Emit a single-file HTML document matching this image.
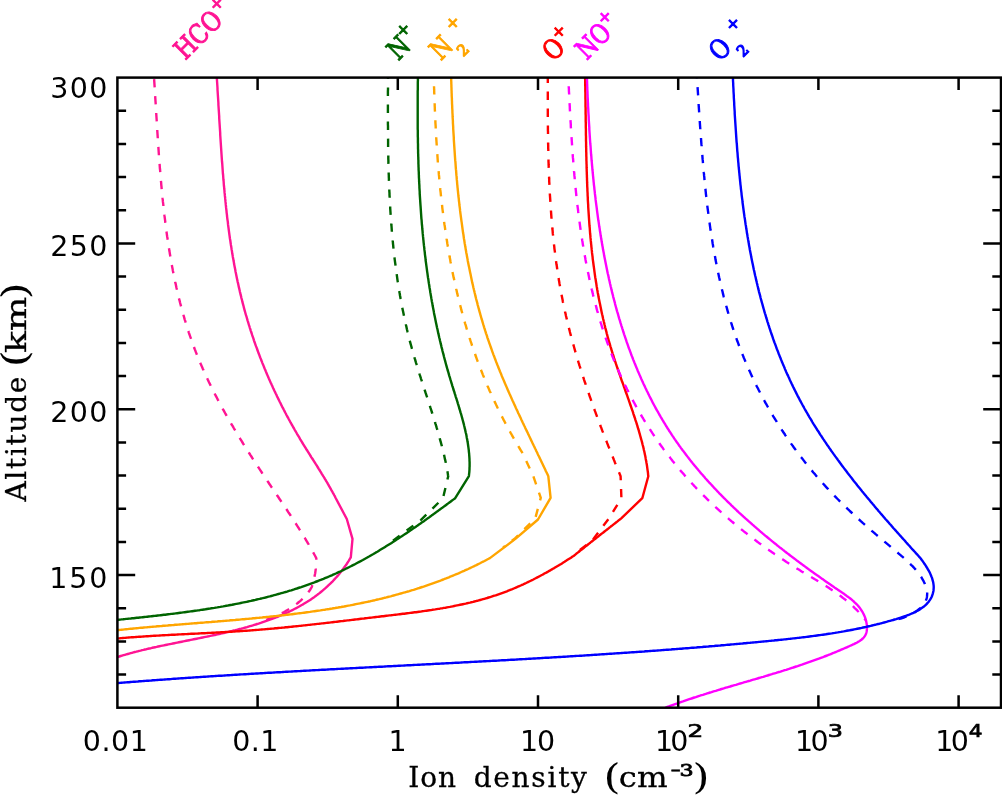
<!DOCTYPE html>
<html lang="en"><head><meta charset="utf-8"><title>Ion density vs altitude</title>
<style>html,body{margin:0;padding:0;background:#fff}svg{display:block}</style></head>
<body>
<svg width="1002" height="796" viewBox="0 0 1002 796">
<rect width="1002" height="796" fill="#fff"/>
<defs><clipPath id="c"><rect x="117.4" y="77.6" width="883.6" height="630.1"/></clipPath></defs>
<g clip-path="url(#c)" fill="none" stroke-width="2.4" stroke-linejoin="round">
<path d="M216.8,77.5 L216.9,79.0 L217.0,80.5 L217.1,82.0 L217.2,83.5 L217.3,85.0 L217.4,86.5 L217.5,88.0 L217.5,89.5 L217.6,91.0 L217.7,92.5 L217.8,94.0 L217.9,95.5 L218.0,97.0 L218.1,98.5 L218.2,100.0 L218.3,101.5 L218.4,103.0 L218.4,104.5 L218.5,106.0 L218.6,107.5 L218.7,109.0 L218.8,110.5 L218.9,112.0 L219.0,113.5 L219.1,115.0 L219.2,116.5 L219.2,118.0 L219.3,119.5 L219.4,121.0 L219.5,122.5 L219.6,124.0 L219.7,125.5 L219.8,127.0 L219.9,128.5 L220.0,130.0 L220.1,131.5 L220.2,133.0 L220.2,134.5 L220.3,136.0 L220.4,137.5 L220.5,139.0 L220.6,140.5 L220.7,142.0 L220.8,143.5 L220.9,145.0 L221.0,146.5 L221.1,148.0 L221.2,149.5 L221.3,151.0 L221.4,152.5 L221.5,154.0 L221.6,155.5 L221.7,157.0 L221.8,158.5 L221.9,160.0 L222.0,161.5 L222.2,163.0 L222.3,164.5 L222.4,166.0 L222.5,167.5 L222.6,169.0 L222.7,170.5 L222.8,172.0 L222.9,173.5 L223.1,175.0 L223.2,176.5 L223.3,178.0 L223.4,179.5 L223.6,181.0 L223.7,182.5 L223.8,184.0 L223.9,185.5 L224.1,187.0 L224.2,188.5 L224.4,190.0 L224.5,191.5 L224.6,192.9 L224.8,194.4 L224.9,195.9 L225.1,197.4 L225.2,198.9 L225.4,200.4 L225.5,201.9 L225.7,203.4 L225.8,204.9 L226.0,206.4 L226.1,207.9 L226.3,209.3 L226.5,210.8 L226.6,212.3 L226.8,213.8 L227.0,215.3 L227.1,216.8 L227.3,218.3 L227.5,219.8 L227.7,221.2 L227.9,222.7 L228.0,224.2 L228.2,225.7 L228.4,227.2 L228.6,228.7 L228.8,230.1 L229.0,231.6 L229.2,233.1 L229.4,234.6 L229.6,236.1 L229.8,237.5 L230.0,239.0 L230.3,240.5 L230.5,242.0 L230.7,243.5 L230.9,244.9 L231.2,246.4 L231.4,247.9 L231.6,249.4 L231.9,250.8 L232.1,252.3 L232.3,253.8 L232.6,255.2 L232.8,256.7 L233.1,258.2 L233.4,259.7 L233.6,261.1 L233.9,262.6 L234.1,264.1 L234.4,265.5 L234.7,267.0 L235.0,268.5 L235.3,269.9 L235.5,271.4 L235.8,272.8 L236.1,274.3 L236.4,275.8 L236.7,277.2 L237.0,278.7 L237.3,280.1 L237.6,281.6 L238.0,283.1 L238.3,284.5 L238.6,286.0 L238.9,287.4 L239.3,288.9 L239.6,290.3 L239.9,291.8 L240.3,293.2 L240.6,294.7 L241.0,296.1 L241.3,297.6 L241.7,299.0 L242.1,300.5 L242.4,301.9 L242.8,303.4 L243.2,304.8 L243.6,306.3 L243.9,307.7 L244.3,309.1 L244.7,310.6 L245.1,312.0 L245.5,313.5 L245.9,314.9 L246.4,316.3 L246.8,317.8 L247.2,319.2 L247.6,320.6 L248.1,322.1 L248.5,323.5 L248.9,324.9 L249.4,326.3 L249.8,327.8 L250.3,329.2 L250.7,330.6 L251.2,332.0 L251.7,333.5 L252.1,334.9 L252.6,336.3 L253.1,337.7 L253.6,339.1 L254.0,340.6 L254.5,342.0 L255.0,343.4 L255.5,344.8 L256.0,346.2 L256.6,347.6 L257.1,349.0 L257.6,350.5 L258.1,351.9 L258.6,353.3 L259.2,354.7 L259.7,356.1 L260.2,357.5 L260.8,358.9 L261.3,360.3 L261.9,361.7 L262.4,363.1 L263.0,364.5 L263.6,365.9 L264.1,367.3 L264.7,368.7 L265.3,370.0 L265.8,371.4 L266.4,372.8 L267.0,374.2 L267.6,375.6 L268.2,377.0 L268.8,378.4 L269.4,379.7 L270.0,381.1 L270.6,382.5 L271.3,383.9 L271.9,385.3 L272.5,386.6 L273.1,388.0 L273.8,389.4 L274.4,390.7 L275.1,392.1 L275.7,393.5 L276.4,394.8 L277.0,396.2 L277.7,397.6 L278.3,398.9 L279.0,400.3 L279.7,401.7 L280.4,403.0 L281.0,404.4 L281.7,405.7 L282.4,407.1 L283.1,408.4 L283.8,409.8 L284.5,411.1 L285.2,412.5 L285.9,413.8 L286.6,415.2 L287.3,416.5 L288.1,417.8 L288.8,419.2 L289.5,420.5 L290.2,421.8 L291.0,423.2 L291.7,424.5 L292.5,425.8 L293.2,427.2 L294.0,428.5 L294.7,429.8 L295.5,431.1 L296.3,432.5 L297.0,433.8 L297.8,435.1 L298.6,436.4 L299.4,437.7 L300.1,439.1 L300.9,440.4 L301.7,441.7 L302.5,443.0 L303.3,444.3 L304.1,445.6 L304.9,446.9 L305.7,448.2 L306.5,449.5 L307.4,450.8 L308.2,452.1 L309.0,453.4 L309.8,454.7 L310.6,456.0 L311.4,457.3 L312.2,458.5 L313.1,459.8 L313.9,461.1 L314.7,462.4 L315.5,463.7 L316.3,464.9 L317.1,466.2 L317.9,467.5 L318.7,468.8 L319.5,470.0 L320.3,471.3 L321.1,472.6 L321.8,473.8 L322.6,475.1 L323.4,476.4 L324.2,477.6 L324.9,478.9 L325.7,480.1 L326.4,481.4 L327.2,482.6 L327.9,483.9 L328.6,485.1 L329.3,486.4 L330.0,487.6 L330.7,488.8 L331.4,490.1 L332.1,491.3 L332.8,492.6 L333.5,493.8 L334.1,495.0 L334.8,496.2 L335.4,497.5 L335.4,497.5 L346.8,519.0 L352.5,538.8 L350.8,557.3 L350.0,558.7 L349.2,560.0 L348.4,561.4 L347.5,562.7 L346.7,564.0 L345.8,565.3 L344.9,566.5 L344.0,567.8 L343.1,569.0 L342.2,570.2 L341.3,571.4 L340.3,572.6 L339.4,573.8 L338.4,575.0 L337.4,576.1 L336.4,577.2 L335.4,578.3 L334.4,579.4 L333.4,580.5 L332.4,581.6 L331.3,582.7 L330.3,583.7 L329.2,584.7 L328.1,585.7 L327.1,586.7 L326.0,587.7 L324.9,588.7 L323.7,589.7 L322.6,590.6 L321.5,591.5 L320.3,592.5 L319.2,593.4 L318.0,594.3 L316.9,595.1 L315.7,596.0 L314.5,596.9 L313.3,597.7 L312.1,598.6 L310.9,599.4 L309.7,600.2 L308.4,601.0 L307.2,601.8 L306.0,602.5 L304.7,603.3 L303.4,604.1 L302.2,604.8 L300.9,605.5 L299.6,606.3 L298.3,607.0 L297.0,607.7 L295.7,608.4 L294.4,609.0 L293.1,609.7 L291.8,610.4 L290.5,611.0 L289.1,611.7 L287.8,612.3 L286.4,612.9 L285.1,613.5 L283.7,614.1 L282.4,614.7 L281.0,615.3 L279.6,615.9 L278.3,616.5 L276.9,617.0 L275.5,617.6 L274.1,618.1 L272.7,618.6 L271.3,619.2 L269.9,619.7 L268.5,620.2 L267.1,620.7 L265.7,621.2 L264.3,621.7 L262.8,622.2 L261.4,622.7 L260.0,623.1 L258.6,623.6 L257.1,624.0 L255.7,624.5 L254.3,624.9 L252.8,625.4 L251.4,625.8 L249.9,626.2 L248.5,626.6 L247.0,627.1 L245.6,627.5 L244.1,627.9 L242.6,628.3 L241.2,628.7 L239.7,629.0 L238.3,629.4 L236.8,629.8 L235.3,630.2 L233.8,630.5 L232.4,630.9 L230.9,631.3 L229.4,631.6 L227.9,632.0 L226.5,632.3 L225.0,632.7 L223.5,633.0 L222.0,633.3 L220.5,633.7 L219.0,634.0 L217.6,634.3 L216.1,634.7 L214.6,635.0 L213.1,635.3 L211.6,635.6 L210.1,635.9 L208.6,636.3 L207.1,636.6 L205.6,636.9 L204.2,637.2 L202.7,637.5 L201.2,637.8 L199.7,638.1 L198.2,638.4 L196.7,638.7 L195.2,639.0 L193.7,639.3 L192.2,639.6 L190.7,639.9 L189.2,640.2 L187.7,640.5 L186.2,640.8 L184.7,641.1 L183.3,641.4 L181.8,641.7 L180.3,642.0 L178.8,642.3 L177.3,642.6 L175.8,642.9 L174.3,643.2 L172.8,643.5 L171.4,643.8 L169.9,644.1 L168.4,644.4 L166.9,644.7 L165.4,645.0 L164.0,645.3 L162.5,645.6 L161.0,645.9 L159.5,646.2 L158.1,646.5 L156.6,646.9 L155.1,647.2 L153.7,647.5 L152.2,647.8 L150.8,648.2 L149.3,648.5 L147.8,648.8 L146.4,649.2 L144.9,649.5 L143.5,649.9 L142.1,650.2 L140.6,650.6 L139.2,650.9 L137.7,651.3 L136.3,651.7 L134.9,652.0 L133.4,652.4 L132.0,652.8 L130.6,653.2 L129.2,653.6 L127.8,654.0 L126.3,654.4 L124.9,654.8 L123.5,655.2 L122.1,655.6 L120.7,656.0 L119.3,656.5 L118.0,656.9 L117.0,657.2" stroke="#FF1493"/>
<path d="M154.0,77.5 L154.1,79.0 L154.2,80.4 L154.3,81.9 L154.4,83.4 L154.5,84.8 L154.6,86.3 L154.7,87.8 L154.8,89.3 L154.8,90.7 L154.9,92.2 L155.0,93.7 L155.1,95.2 L155.2,96.7 L155.3,98.1 L155.4,99.6 L155.5,101.1 L155.6,102.6 L155.7,104.1 L155.8,105.6 L155.8,107.0 L155.9,108.5 L156.0,110.0 L156.1,111.5 L156.2,113.0 L156.3,114.5 L156.4,116.0 L156.5,117.5 L156.6,119.0 L156.7,120.5 L156.8,121.9 L156.8,123.4 L156.9,124.9 L157.0,126.4 L157.1,127.9 L157.2,129.4 L157.3,130.9 L157.4,132.4 L157.5,133.9 L157.6,135.4 L157.7,136.9 L157.8,138.4 L157.9,139.9 L158.0,141.4 L158.1,142.9 L158.2,144.4 L158.3,145.9 L158.4,147.4 L158.5,148.9 L158.6,150.4 L158.7,152.0 L158.8,153.5 L158.9,155.0 L159.0,156.5 L159.1,158.0 L159.3,159.5 L159.4,161.0 L159.5,162.5 L159.6,164.0 L159.7,165.5 L159.8,167.0 L159.9,168.5 L160.1,170.0 L160.2,171.5 L160.3,173.0 L160.4,174.5 L160.6,176.1 L160.7,177.6 L160.8,179.1 L160.9,180.6 L161.1,182.1 L161.2,183.6 L161.3,185.1 L161.5,186.6 L161.6,188.1 L161.7,189.6 L161.9,191.1 L162.0,192.6 L162.2,194.1 L162.3,195.6 L162.5,197.2 L162.6,198.7 L162.8,200.2 L162.9,201.7 L163.1,203.2 L163.3,204.7 L163.4,206.2 L163.6,207.7 L163.7,209.2 L163.9,210.7 L164.1,212.2 L164.3,213.7 L164.4,215.2 L164.6,216.7 L164.8,218.2 L165.0,219.7 L165.2,221.2 L165.3,222.7 L165.5,224.2 L165.7,225.7 L165.9,227.2 L166.1,228.7 L166.3,230.2 L166.5,231.7 L166.7,233.2 L166.9,234.7 L167.1,236.2 L167.4,237.7 L167.6,239.2 L167.8,240.7 L168.0,242.2 L168.2,243.7 L168.5,245.2 L168.7,246.6 L168.9,248.1 L169.2,249.6 L169.4,251.1 L169.7,252.6 L169.9,254.1 L170.2,255.6 L170.4,257.1 L170.7,258.5 L170.9,260.0 L171.2,261.5 L171.5,263.0 L171.7,264.5 L172.0,265.9 L172.3,267.4 L172.6,268.9 L172.8,270.4 L173.1,271.8 L173.4,273.3 L173.7,274.8 L174.0,276.3 L174.3,277.7 L174.6,279.2 L174.9,280.7 L175.2,282.1 L175.6,283.6 L175.9,285.1 L176.2,286.5 L176.5,288.0 L176.9,289.5 L177.2,290.9 L177.5,292.4 L177.9,293.8 L178.2,295.3 L178.6,296.7 L178.9,298.2 L179.3,299.6 L179.7,301.1 L180.0,302.5 L180.4,304.0 L180.8,305.4 L181.2,306.9 L181.6,308.3 L182.0,309.8 L182.4,311.2 L182.8,312.6 L183.2,314.1 L183.6,315.5 L184.0,316.9 L184.4,318.4 L184.8,319.8 L185.3,321.2 L185.7,322.7 L186.1,324.1 L186.6,325.5 L187.0,326.9 L187.5,328.3 L187.9,329.8 L188.4,331.2 L188.8,332.6 L189.3,334.0 L189.8,335.4 L190.3,336.8 L190.8,338.2 L191.3,339.6 L191.7,341.0 L192.3,342.4 L192.8,343.8 L193.3,345.2 L193.8,346.6 L194.3,348.0 L194.8,349.4 L195.4,350.8 L195.9,352.2 L196.5,353.6 L197.0,355.0 L197.6,356.3 L198.1,357.7 L198.7,359.1 L199.2,360.5 L199.8,361.8 L200.4,363.2 L201.0,364.6 L201.6,365.9 L202.2,367.3 L202.8,368.7 L203.4,370.0 L204.0,371.4 L204.6,372.8 L205.2,374.1 L205.8,375.5 L206.5,376.8 L207.1,378.2 L207.7,379.5 L208.4,380.9 L209.0,382.2 L209.7,383.6 L210.3,384.9 L211.0,386.2 L211.6,387.6 L212.3,388.9 L213.0,390.3 L213.6,391.6 L214.3,392.9 L215.0,394.3 L215.7,395.6 L216.4,396.9 L217.1,398.2 L217.8,399.6 L218.5,400.9 L219.2,402.2 L219.9,403.5 L220.6,404.8 L221.3,406.2 L222.0,407.5 L222.7,408.8 L223.5,410.1 L224.2,411.4 L224.9,412.7 L225.6,414.0 L226.4,415.3 L227.1,416.6 L227.9,418.0 L228.6,419.3 L229.4,420.6 L230.1,421.9 L230.9,423.2 L231.6,424.5 L232.4,425.7 L233.2,427.0 L233.9,428.3 L234.7,429.6 L235.5,430.9 L236.2,432.2 L237.0,433.5 L237.8,434.8 L238.6,436.1 L239.4,437.4 L240.1,438.6 L240.9,439.9 L241.7,441.2 L242.5,442.5 L243.3,443.8 L244.1,445.1 L244.9,446.3 L245.7,447.6 L246.5,448.9 L247.3,450.2 L248.1,451.4 L248.9,452.7 L249.8,454.0 L250.6,455.3 L251.4,456.5 L252.2,457.8 L253.0,459.1 L253.8,460.3 L254.7,461.6 L255.5,462.9 L256.3,464.1 L257.1,465.4 L258.0,466.7 L258.8,467.9 L259.6,469.2 L260.4,470.4 L261.3,471.7 L262.1,473.0 L262.9,474.2 L263.8,475.5 L264.6,476.7 L265.4,478.0 L266.3,479.2 L267.1,480.5 L268.0,481.8 L268.8,483.0 L269.6,484.3 L270.5,485.5 L271.3,486.8 L272.2,488.0 L273.0,489.3 L273.9,490.5 L274.7,491.8 L275.5,493.0 L276.4,494.3 L277.2,495.5 L278.1,496.8 L278.9,498.0 L279.7,499.3 L280.6,500.5 L281.4,501.8 L282.3,503.0 L283.1,504.3 L283.9,505.5 L284.8,506.8 L285.6,508.0 L286.5,509.3 L287.3,510.5 L288.1,511.8 L288.9,513.0 L289.8,514.3 L290.6,515.5 L291.4,516.8 L292.2,518.0 L293.1,519.3 L293.9,520.5 L294.7,521.8 L295.5,523.1 L296.3,524.3 L297.1,525.6 L297.9,526.8 L298.7,528.1 L299.5,529.4 L300.3,530.6 L301.1,531.9 L301.9,533.2 L302.7,534.4 L303.4,535.7 L304.2,537.0 L305.0,538.2 L305.7,539.5 L306.5,540.8 L307.3,542.1 L308.0,543.4 L308.8,544.6 L309.5,545.9 L310.2,547.2 L311.0,548.5 L311.7,549.8 L312.4,551.1 L313.1,552.4 L313.9,553.7 L314.6,555.0 L315.3,556.3 L316.0,557.6 L316.3,558.2 L316.3,559.7 L316.3,561.2 L316.2,562.7 L316.2,564.2 L316.1,565.7 L315.9,567.2 L315.8,568.7 L315.6,570.2 L315.4,571.7 L315.2,573.2 L314.9,574.6 L314.6,576.1 L314.3,577.6 L314.0,579.0 L313.7,580.5 L313.3,581.9 L312.9,583.4 L312.4,584.8 L312.0,586.3 L311.6,587.4 L310.8,588.7 L310.0,590.0 L309.1,591.2 L308.2,592.4 L307.3,593.6 L306.3,594.7 L305.4,595.8 L304.4,596.9 L303.3,598.0 L302.3,599.0 L301.2,600.1 L300.1,601.1 L298.9,602.0 L297.8,603.0 L296.6,603.9 L295.4,604.8 L294.2,605.7 L293.0,606.5 L291.7,607.4 L290.5,608.2 L289.2,609.0 L287.9,609.8 L286.6,610.5 L285.3,611.3 L284.0,612.0 L282.6,612.7 L281.3,613.4 L279.9,614.0 L278.6,614.7 L277.2,615.3 L275.8,615.9 L274.4,616.5 L273.0,617.1 L271.6,617.7 L270.2,618.3 L268.9,618.8 L267.5,619.4 L266.1,619.9 L264.7,620.4 L263.3,620.9 L261.9,621.4 L260.5,621.9 L259.1,622.3 L258.4,622.6" stroke="#FF1493" stroke-dasharray="8.3 8.7" stroke-dashoffset="15.4"/>
<path d="M417.9,77.5 L417.9,79.0 L417.9,80.5 L417.8,82.1 L417.8,83.6 L417.8,85.1 L417.8,86.6 L417.8,88.2 L417.8,89.7 L417.7,91.2 L417.7,92.7 L417.7,94.2 L417.7,95.7 L417.7,97.3 L417.7,98.8 L417.7,100.3 L417.7,101.8 L417.7,103.3 L417.7,104.8 L417.7,106.4 L417.7,107.9 L417.7,109.4 L417.7,110.9 L417.7,112.4 L417.7,113.9 L417.7,115.4 L417.7,116.9 L417.7,118.4 L417.7,120.0 L417.7,121.5 L417.7,123.0 L417.7,124.5 L417.7,126.0 L417.7,127.5 L417.7,129.0 L417.8,130.5 L417.8,132.0 L417.8,133.5 L417.8,135.0 L417.8,136.5 L417.9,138.0 L417.9,139.5 L417.9,141.0 L417.9,142.5 L418.0,144.0 L418.0,145.5 L418.0,147.0 L418.0,148.5 L418.1,150.0 L418.1,151.5 L418.1,153.0 L418.2,154.5 L418.2,156.0 L418.3,157.5 L418.3,159.0 L418.4,160.5 L418.4,162.0 L418.4,163.5 L418.5,165.0 L418.5,166.5 L418.6,168.0 L418.6,169.5 L418.7,171.0 L418.8,172.5 L418.8,174.0 L418.9,175.5 L418.9,177.0 L419.0,178.5 L419.1,180.0 L419.1,181.4 L419.2,182.9 L419.3,184.4 L419.4,185.9 L419.4,187.4 L419.5,188.9 L419.6,190.4 L419.7,191.9 L419.7,193.4 L419.8,194.9 L419.9,196.3 L420.0,197.8 L420.1,199.3 L420.2,200.8 L420.3,202.3 L420.4,203.8 L420.5,205.3 L420.6,206.7 L420.7,208.2 L420.8,209.7 L420.9,211.2 L421.0,212.7 L421.1,214.2 L421.2,215.6 L421.3,217.1 L421.4,218.6 L421.6,220.1 L421.7,221.6 L421.8,223.1 L421.9,224.5 L422.1,226.0 L422.2,227.5 L422.3,229.0 L422.5,230.5 L422.6,231.9 L422.7,233.4 L422.9,234.9 L423.0,236.4 L423.2,237.9 L423.3,239.3 L423.5,240.8 L423.6,242.3 L423.8,243.8 L423.9,245.2 L424.1,246.7 L424.3,248.2 L424.4,249.7 L424.6,251.1 L424.8,252.6 L424.9,254.1 L425.1,255.6 L425.3,257.0 L425.5,258.5 L425.6,260.0 L425.8,261.5 L426.0,262.9 L426.2,264.4 L426.4,265.9 L426.6,267.4 L426.8,268.8 L427.0,270.3 L427.2,271.8 L427.4,273.2 L427.6,274.7 L427.8,276.2 L428.0,277.7 L428.3,279.1 L428.5,280.6 L428.7,282.1 L428.9,283.5 L429.2,285.0 L429.4,286.5 L429.6,288.0 L429.9,289.4 L430.1,290.9 L430.3,292.4 L430.6,293.8 L430.8,295.3 L431.1,296.8 L431.3,298.2 L431.6,299.7 L431.8,301.2 L432.1,302.6 L432.4,304.1 L432.6,305.6 L432.9,307.0 L433.2,308.5 L433.5,310.0 L433.8,311.4 L434.0,312.9 L434.3,314.4 L434.6,315.8 L434.9,317.3 L435.2,318.8 L435.5,320.2 L435.8,321.7 L436.1,323.2 L436.4,324.6 L436.7,326.1 L437.0,327.6 L437.4,329.0 L437.7,330.5 L438.0,332.0 L438.3,333.4 L438.7,334.9 L439.0,336.4 L439.3,337.8 L439.7,339.3 L440.0,340.7 L440.4,342.2 L440.7,343.7 L441.1,345.1 L441.4,346.6 L441.8,348.1 L442.2,349.5 L442.5,351.0 L442.9,352.5 L443.3,353.9 L443.7,355.4 L444.0,356.8 L444.4,358.3 L444.8,359.8 L445.2,361.2 L445.6,362.7 L446.0,364.2 L446.4,365.6 L446.8,367.1 L447.2,368.5 L447.6,370.0 L448.1,371.5 L448.5,372.9 L448.9,374.4 L449.3,375.8 L449.8,377.3 L450.2,378.8 L450.6,380.2 L451.1,381.7 L451.5,383.2 L452.0,384.6 L452.4,386.1 L452.9,387.5 L453.3,389.0 L453.8,390.5 L454.3,391.9 L454.7,393.4 L455.2,394.8 L455.6,396.3 L456.1,397.8 L456.6,399.2 L457.0,400.7 L457.5,402.2 L457.9,403.6 L458.4,405.1 L458.8,406.5 L459.2,408.0 L459.7,409.5 L460.1,410.9 L460.5,412.4 L461.0,413.8 L461.4,415.3 L461.8,416.8 L462.2,418.2 L462.6,419.7 L463.0,421.1 L463.4,422.6 L463.8,424.1 L464.1,425.5 L464.5,427.0 L464.8,428.4 L465.2,429.9 L465.5,431.4 L465.8,432.8 L466.2,434.3 L466.5,435.8 L466.7,437.2 L467.0,438.7 L467.3,440.1 L467.5,441.6 L467.8,443.1 L468.0,444.5 L468.2,446.0 L468.4,447.4 L468.6,448.9 L468.8,450.4 L468.9,451.8 L469.1,453.3 L469.2,454.8 L469.3,456.2 L469.4,457.7 L469.5,459.1 L469.5,460.6 L469.6,462.1 L469.6,463.5 L469.6,465.0 L469.6,466.5 L469.5,467.9 L469.5,469.4 L469.4,470.8 L469.3,472.3 L469.1,473.8 L469.0,475.2 L468.9,476.2 L455.2,498.2 L454.0,499.1 L452.9,499.9 L451.7,500.8 L450.5,501.7 L449.4,502.5 L448.2,503.4 L447.0,504.3 L445.8,505.2 L444.7,506.0 L443.5,506.9 L442.3,507.8 L441.1,508.6 L439.9,509.5 L438.7,510.4 L437.5,511.3 L436.3,512.1 L435.1,513.0 L433.9,513.9 L432.7,514.8 L431.5,515.6 L430.3,516.5 L429.1,517.4 L427.8,518.2 L426.6,519.1 L425.4,520.0 L424.2,520.9 L423.0,521.7 L421.7,522.6 L420.5,523.5 L419.3,524.3 L418.0,525.2 L416.8,526.1 L415.6,526.9 L414.3,527.8 L413.1,528.6 L411.8,529.5 L410.6,530.3 L409.3,531.2 L408.1,532.0 L406.8,532.9 L405.6,533.7 L404.3,534.6 L403.0,535.4 L401.8,536.3 L400.5,537.1 L399.2,537.9 L398.0,538.8 L396.7,539.6 L395.4,540.4 L394.1,541.2 L392.9,542.1 L391.6,542.9 L390.3,543.7 L389.0,544.5 L387.7,545.3 L386.4,546.1 L385.1,546.9 L383.8,547.7 L382.5,548.5 L381.2,549.3 L379.9,550.1 L378.6,550.9 L377.3,551.7 L376.0,552.4 L374.7,553.2 L373.4,554.0 L372.1,554.7 L370.8,555.5 L369.5,556.3 L368.1,557.0 L366.8,557.8 L365.5,558.5 L364.2,559.2 L362.8,560.0 L361.5,560.7 L360.2,561.4 L358.8,562.1 L357.5,562.8 L356.2,563.5 L354.8,564.3 L353.5,564.9 L352.1,565.6 L350.8,566.3 L349.4,567.0 L348.1,567.7 L346.7,568.3 L345.4,569.0 L344.0,569.7 L342.7,570.3 L341.3,571.0 L340.0,571.6 L338.6,572.2 L337.2,572.8 L335.9,573.5 L334.5,574.1 L333.1,574.7 L331.8,575.3 L330.4,575.9 L329.0,576.5 L327.6,577.1 L326.3,577.6 L324.9,578.2 L323.5,578.8 L322.1,579.3 L320.7,579.9 L319.3,580.4 L318.0,581.0 L316.6,581.5 L315.2,582.0 L313.8,582.6 L312.4,583.1 L311.0,583.6 L309.6,584.1 L308.2,584.6 L306.8,585.1 L305.4,585.6 L304.0,586.1 L302.6,586.6 L301.2,587.1 L299.8,587.5 L298.3,588.0 L296.9,588.5 L295.5,588.9 L294.1,589.4 L292.7,589.8 L291.3,590.3 L289.8,590.7 L288.4,591.1 L287.0,591.6 L285.6,592.0 L284.2,592.4 L282.7,592.8 L281.3,593.2 L279.9,593.6 L278.4,594.0 L277.0,594.4 L275.6,594.8 L274.1,595.2 L272.7,595.6 L271.3,596.0 L269.8,596.4 L268.4,596.7 L267.0,597.1 L265.5,597.5 L264.1,597.8 L262.6,598.2 L261.2,598.5 L259.7,598.9 L258.3,599.2 L256.8,599.5 L255.4,599.9 L253.9,600.2 L252.5,600.5 L251.0,600.9 L249.6,601.2 L248.1,601.5 L246.7,601.8 L245.2,602.1 L243.7,602.4 L242.3,602.7 L240.8,603.0 L239.4,603.3 L237.9,603.6 L236.4,603.9 L235.0,604.2 L233.5,604.5 L232.0,604.8 L230.6,605.0 L229.1,605.3 L227.6,605.6 L226.2,605.8 L224.7,606.1 L223.2,606.4 L221.7,606.6 L220.3,606.9 L218.8,607.1 L217.3,607.4 L215.8,607.6 L214.4,607.9 L212.9,608.1 L211.4,608.3 L209.9,608.6 L208.5,608.8 L207.0,609.0 L205.5,609.3 L204.0,609.5 L202.5,609.7 L201.0,609.9 L199.6,610.2 L198.1,610.4 L196.6,610.6 L195.1,610.8 L193.6,611.0 L192.1,611.2 L190.6,611.4 L189.1,611.6 L187.7,611.8 L186.2,612.0 L184.7,612.2 L183.2,612.4 L181.7,612.6 L180.2,612.8 L178.7,613.0 L177.2,613.2 L175.7,613.4 L174.2,613.6 L172.7,613.8 L171.2,613.9 L169.7,614.1 L168.2,614.3 L166.7,614.5 L165.3,614.7 L163.8,614.8 L162.3,615.0 L160.8,615.2 L159.3,615.4 L157.8,615.5 L156.3,615.7 L154.8,615.9 L153.3,616.0 L151.8,616.2 L150.3,616.4 L148.8,616.5 L147.3,616.7 L145.8,616.9 L144.3,617.0 L142.8,617.2 L141.3,617.4 L139.8,617.5 L138.3,617.7 L136.8,617.8 L135.3,618.0 L133.7,618.2 L132.2,618.3 L130.7,618.5 L129.2,618.6 L127.7,618.8 L126.2,618.9 L124.7,619.1 L123.2,619.3 L121.7,619.4 L120.2,619.6 L118.7,619.7 L117.2,619.9 L117.0,619.9" stroke="#006400"/>
<path d="M388.0,77.5 L388.0,79.0 L388.0,80.5 L388.0,82.0 L388.0,83.6 L388.0,85.1 L388.0,86.6 L388.0,88.1 L388.0,89.6 L387.9,91.1 L387.9,92.6 L387.9,94.1 L387.9,95.7 L387.9,97.2 L387.9,98.7 L387.9,100.2 L387.9,101.7 L387.9,103.2 L387.9,104.7 L387.9,106.2 L387.9,107.7 L387.9,109.2 L387.9,110.7 L387.9,112.3 L387.9,113.8 L387.9,115.3 L387.9,116.8 L387.9,118.3 L387.9,119.8 L387.9,121.3 L387.9,122.8 L387.9,124.3 L388.0,125.8 L388.0,127.3 L388.0,128.8 L388.0,130.3 L388.0,131.8 L388.0,133.3 L388.0,134.8 L388.0,136.3 L388.0,137.9 L388.1,139.4 L388.1,140.9 L388.1,142.4 L388.1,143.9 L388.1,145.4 L388.1,146.9 L388.2,148.4 L388.2,149.9 L388.2,151.4 L388.2,152.9 L388.3,154.4 L388.3,155.9 L388.3,157.4 L388.3,158.9 L388.4,160.4 L388.4,161.9 L388.4,163.4 L388.5,164.9 L388.5,166.4 L388.6,167.9 L388.6,169.4 L388.6,170.9 L388.7,172.3 L388.7,173.8 L388.8,175.3 L388.8,176.8 L388.9,178.3 L388.9,179.8 L389.0,181.3 L389.0,182.8 L389.1,184.3 L389.1,185.8 L389.2,187.3 L389.3,188.8 L389.3,190.3 L389.4,191.8 L389.5,193.3 L389.5,194.8 L389.6,196.3 L389.7,197.7 L389.7,199.2 L389.8,200.7 L389.9,202.2 L390.0,203.7 L390.1,205.2 L390.2,206.7 L390.2,208.2 L390.3,209.7 L390.4,211.2 L390.5,212.6 L390.6,214.1 L390.7,215.6 L390.8,217.1 L390.9,218.6 L391.0,220.1 L391.1,221.6 L391.2,223.0 L391.3,224.5 L391.5,226.0 L391.6,227.5 L391.7,229.0 L391.8,230.5 L391.9,232.0 L392.1,233.4 L392.2,234.9 L392.3,236.4 L392.5,237.9 L392.6,239.4 L392.7,240.9 L392.9,242.3 L393.0,243.8 L393.2,245.3 L393.3,246.8 L393.5,248.3 L393.6,249.7 L393.8,251.2 L394.0,252.7 L394.1,254.2 L394.3,255.7 L394.5,257.1 L394.6,258.6 L394.8,260.1 L395.0,261.6 L395.2,263.1 L395.4,264.5 L395.6,266.0 L395.8,267.5 L395.9,269.0 L396.1,270.4 L396.3,271.9 L396.6,273.4 L396.8,274.9 L397.0,276.3 L397.2,277.8 L397.4,279.3 L397.6,280.8 L397.8,282.2 L398.1,283.7 L398.3,285.2 L398.5,286.7 L398.8,288.1 L399.0,289.6 L399.3,291.1 L399.5,292.5 L399.8,294.0 L400.0,295.5 L400.3,297.0 L400.5,298.4 L400.8,299.9 L401.1,301.4 L401.4,302.8 L401.6,304.3 L401.9,305.8 L402.2,307.2 L402.5,308.7 L402.8,310.2 L403.1,311.6 L403.4,313.1 L403.7,314.6 L404.0,316.0 L404.3,317.5 L404.6,319.0 L404.9,320.4 L405.3,321.9 L405.6,323.4 L405.9,324.8 L406.3,326.3 L406.6,327.8 L406.9,329.2 L407.3,330.7 L407.6,332.1 L408.0,333.6 L408.4,335.1 L408.7,336.5 L409.1,338.0 L409.5,339.4 L409.8,340.9 L410.2,342.4 L410.6,343.8 L411.0,345.3 L411.4,346.7 L411.8,348.2 L412.2,349.7 L412.6,351.1 L413.0,352.6 L413.4,354.0 L413.9,355.5 L414.3,356.9 L414.7,358.4 L415.2,359.9 L415.6,361.3 L416.0,362.8 L416.5,364.2 L416.9,365.7 L417.4,367.1 L417.8,368.6 L418.3,370.0 L418.7,371.5 L419.2,372.9 L419.6,374.4 L420.1,375.8 L420.6,377.3 L421.0,378.8 L421.5,380.2 L422.0,381.7 L422.4,383.1 L422.9,384.6 L423.4,386.0 L423.8,387.5 L424.3,388.9 L424.8,390.3 L425.3,391.8 L425.7,393.2 L426.2,394.7 L426.7,396.1 L427.2,397.6 L427.6,399.0 L428.1,400.5 L428.6,401.9 L429.0,403.4 L429.5,404.8 L430.0,406.3 L430.4,407.7 L430.9,409.1 L431.4,410.6 L431.8,412.0 L432.3,413.5 L432.7,414.9 L433.2,416.4 L433.7,417.8 L434.1,419.2 L434.6,420.7 L435.0,422.1 L435.4,423.6 L435.9,425.0 L436.3,426.4 L436.7,427.9 L437.2,429.3 L437.6,430.8 L438.0,432.2 L438.4,433.6 L438.8,435.1 L439.2,436.5 L439.6,437.9 L440.0,439.4 L440.4,440.8 L440.8,442.2 L441.2,443.7 L441.6,445.1 L442.0,446.6 L442.3,448.0 L442.7,449.4 L443.0,450.9 L443.4,452.3 L443.7,453.7 L444.1,455.1 L444.4,456.6 L444.7,458.0 L445.0,459.4 L445.4,460.9 L445.7,462.3 L445.9,463.7 L446.2,465.2 L446.5,466.6 L446.8,468.0 L447.1,469.4 L447.3,470.9 L447.6,472.3 L447.8,473.7 L448.0,475.2 L448.2,476.2 L443.0,498.2 L421.0,519.9 L392.0,541.5" stroke="#006400" stroke-dasharray="8.3 8.7" stroke-dashoffset="6.9"/>
<path d="M451.1,77.5 L451.2,79.0 L451.2,80.5 L451.3,82.0 L451.3,83.5 L451.4,85.0 L451.4,86.6 L451.5,88.1 L451.5,89.6 L451.6,91.1 L451.6,92.6 L451.7,94.1 L451.7,95.6 L451.8,97.1 L451.9,98.6 L451.9,100.1 L452.0,101.6 L452.0,103.1 L452.1,104.6 L452.2,106.2 L452.2,107.7 L452.3,109.2 L452.4,110.7 L452.4,112.2 L452.5,113.7 L452.6,115.2 L452.6,116.7 L452.7,118.2 L452.8,119.7 L452.9,121.2 L452.9,122.7 L453.0,124.2 L453.1,125.7 L453.2,127.2 L453.2,128.7 L453.3,130.2 L453.4,131.7 L453.5,133.2 L453.6,134.7 L453.7,136.2 L453.8,137.7 L453.8,139.2 L453.9,140.7 L454.0,142.2 L454.1,143.7 L454.2,145.2 L454.3,146.7 L454.4,148.2 L454.5,149.7 L454.6,151.2 L454.7,152.7 L454.8,154.2 L454.9,155.7 L455.0,157.2 L455.1,158.7 L455.2,160.2 L455.4,161.7 L455.5,163.2 L455.6,164.7 L455.7,166.2 L455.8,167.7 L455.9,169.2 L456.1,170.7 L456.2,172.2 L456.3,173.7 L456.4,175.2 L456.6,176.7 L456.7,178.2 L456.8,179.7 L457.0,181.1 L457.1,182.6 L457.2,184.1 L457.4,185.6 L457.5,187.1 L457.7,188.6 L457.8,190.1 L458.0,191.6 L458.1,193.1 L458.3,194.6 L458.4,196.0 L458.6,197.5 L458.8,199.0 L458.9,200.5 L459.1,202.0 L459.3,203.5 L459.4,205.0 L459.6,206.4 L459.8,207.9 L460.0,209.4 L460.1,210.9 L460.3,212.4 L460.5,213.9 L460.7,215.3 L460.9,216.8 L461.1,218.3 L461.3,219.8 L461.5,221.3 L461.7,222.7 L461.9,224.2 L462.1,225.7 L462.3,227.2 L462.5,228.6 L462.7,230.1 L462.9,231.6 L463.1,233.1 L463.4,234.5 L463.6,236.0 L463.8,237.5 L464.0,239.0 L464.3,240.4 L464.5,241.9 L464.7,243.4 L465.0,244.8 L465.2,246.3 L465.5,247.8 L465.7,249.3 L466.0,250.7 L466.2,252.2 L466.5,253.7 L466.8,255.1 L467.0,256.6 L467.3,258.1 L467.6,259.5 L467.8,261.0 L468.1,262.4 L468.4,263.9 L468.7,265.4 L469.0,266.8 L469.3,268.3 L469.6,269.8 L469.9,271.2 L470.2,272.7 L470.5,274.1 L470.8,275.6 L471.1,277.0 L471.4,278.5 L471.7,280.0 L472.0,281.4 L472.3,282.9 L472.7,284.3 L473.0,285.8 L473.3,287.2 L473.7,288.7 L474.0,290.1 L474.4,291.6 L474.7,293.0 L475.1,294.5 L475.4,295.9 L475.8,297.4 L476.1,298.8 L476.5,300.3 L476.9,301.7 L477.3,303.1 L477.6,304.6 L478.0,306.0 L478.4,307.5 L478.8,308.9 L479.2,310.4 L479.6,311.8 L480.0,313.2 L480.4,314.7 L480.8,316.1 L481.2,317.5 L481.6,319.0 L482.1,320.4 L482.5,321.8 L482.9,323.3 L483.3,324.7 L483.8,326.1 L484.2,327.6 L484.7,329.0 L485.1,330.4 L485.6,331.9 L486.0,333.3 L486.5,334.7 L487.0,336.1 L487.4,337.6 L487.9,339.0 L488.4,340.4 L488.9,341.8 L489.4,343.3 L489.9,344.7 L490.4,346.1 L490.9,347.5 L491.4,348.9 L491.9,350.4 L492.4,351.8 L492.9,353.2 L493.4,354.6 L494.0,356.0 L494.5,357.4 L495.0,358.8 L495.6,360.3 L496.1,361.7 L496.7,363.1 L497.2,364.5 L497.8,365.9 L498.3,367.3 L498.9,368.7 L499.5,370.1 L500.0,371.5 L500.6,372.9 L501.2,374.3 L501.7,375.7 L502.3,377.1 L502.9,378.5 L503.5,379.9 L504.1,381.3 L504.7,382.7 L505.3,384.1 L505.9,385.5 L506.5,386.9 L507.1,388.3 L507.7,389.7 L508.3,391.1 L508.9,392.4 L509.5,393.8 L510.2,395.2 L510.8,396.6 L511.4,398.0 L512.0,399.4 L512.6,400.8 L513.3,402.1 L513.9,403.5 L514.5,404.9 L515.2,406.3 L515.8,407.7 L516.4,409.0 L517.1,410.4 L517.7,411.8 L518.3,413.2 L519.0,414.5 L519.6,415.9 L520.3,417.3 L520.9,418.6 L521.5,420.0 L522.2,421.4 L522.8,422.7 L523.5,424.1 L524.1,425.5 L524.8,426.8 L525.4,428.2 L526.1,429.6 L526.7,430.9 L527.4,432.3 L528.0,433.6 L528.7,435.0 L529.3,436.3 L530.0,437.7 L530.6,439.1 L531.2,440.4 L531.9,441.8 L532.5,443.1 L533.2,444.5 L533.8,445.8 L534.5,447.1 L535.1,448.5 L535.8,449.8 L536.4,451.2 L537.1,452.5 L537.7,453.9 L538.3,455.2 L539.0,456.5 L539.6,457.9 L540.3,459.2 L540.9,460.5 L541.5,461.9 L542.2,463.2 L542.8,464.5 L543.4,465.9 L544.1,467.2 L544.7,468.5 L545.3,469.8 L545.9,471.2 L546.6,472.5 L547.2,473.8 L547.8,475.1 L548.3,476.2 L550.6,497.8 L538.0,519.5 L515.4,538.9 L489.9,558.1 L488.6,558.8 L487.2,559.5 L485.9,560.2 L484.5,561.0 L483.2,561.6 L481.8,562.3 L480.5,563.0 L479.1,563.7 L477.7,564.4 L476.4,565.1 L475.0,565.7 L473.7,566.4 L472.3,567.0 L470.9,567.7 L469.6,568.3 L468.2,569.0 L466.8,569.6 L465.4,570.2 L464.1,570.8 L462.7,571.4 L461.3,572.0 L459.9,572.7 L458.6,573.3 L457.2,573.8 L455.8,574.4 L454.4,575.0 L453.0,575.6 L451.6,576.2 L450.2,576.7 L448.9,577.3 L447.5,577.8 L446.1,578.4 L444.7,578.9 L443.3,579.5 L441.9,580.0 L440.5,580.6 L439.1,581.1 L437.7,581.6 L436.3,582.1 L434.9,582.6 L433.5,583.1 L432.1,583.6 L430.6,584.1 L429.2,584.6 L427.8,585.1 L426.4,585.6 L425.0,586.1 L423.6,586.6 L422.2,587.0 L420.7,587.5 L419.3,588.0 L417.9,588.4 L416.5,588.9 L415.1,589.3 L413.6,589.8 L412.2,590.2 L410.8,590.6 L409.4,591.1 L407.9,591.5 L406.5,591.9 L405.1,592.3 L403.6,592.7 L402.2,593.1 L400.8,593.5 L399.3,593.9 L397.9,594.3 L396.5,594.7 L395.0,595.1 L393.6,595.5 L392.1,595.9 L390.7,596.3 L389.3,596.6 L387.8,597.0 L386.4,597.4 L384.9,597.7 L383.5,598.1 L382.0,598.5 L380.6,598.8 L379.1,599.2 L377.7,599.5 L376.2,599.8 L374.8,600.2 L373.3,600.5 L371.9,600.8 L370.4,601.2 L368.9,601.5 L367.5,601.8 L366.0,602.1 L364.6,602.4 L363.1,602.7 L361.6,603.0 L360.2,603.3 L358.7,603.6 L357.2,603.9 L355.8,604.2 L354.3,604.5 L352.9,604.8 L351.4,605.1 L349.9,605.4 L348.4,605.6 L347.0,605.9 L345.5,606.2 L344.0,606.5 L342.6,606.7 L341.1,607.0 L339.6,607.2 L338.1,607.5 L336.7,607.7 L335.2,608.0 L333.7,608.2 L332.2,608.5 L330.8,608.7 L329.3,609.0 L327.8,609.2 L326.3,609.4 L324.8,609.7 L323.4,609.9 L321.9,610.1 L320.4,610.4 L318.9,610.6 L317.4,610.8 L315.9,611.0 L314.5,611.2 L313.0,611.4 L311.5,611.6 L310.0,611.9 L308.5,612.1 L307.0,612.3 L305.5,612.5 L304.0,612.7 L302.6,612.9 L301.1,613.1 L299.6,613.2 L298.1,613.4 L296.6,613.6 L295.1,613.8 L293.6,614.0 L292.1,614.2 L290.6,614.4 L289.1,614.5 L287.6,614.7 L286.2,614.9 L284.7,615.1 L283.2,615.2 L281.7,615.4 L280.2,615.6 L278.7,615.7 L277.2,615.9 L275.7,616.1 L274.2,616.2 L272.7,616.4 L271.2,616.5 L269.7,616.7 L268.2,616.9 L266.7,617.0 L265.2,617.2 L263.7,617.3 L262.2,617.5 L260.7,617.6 L259.2,617.8 L257.7,617.9 L256.2,618.0 L254.7,618.2 L253.2,618.3 L251.7,618.5 L250.2,618.6 L248.7,618.8 L247.2,618.9 L245.7,619.0 L244.2,619.2 L242.7,619.3 L241.2,619.4 L239.7,619.6 L238.2,619.7 L236.7,619.8 L235.2,620.0 L233.7,620.1 L232.2,620.2 L230.7,620.3 L229.2,620.5 L227.7,620.6 L226.2,620.7 L224.7,620.9 L223.2,621.0 L221.7,621.1 L220.2,621.2 L218.7,621.3 L217.2,621.5 L215.7,621.6 L214.2,621.7 L212.7,621.8 L211.2,622.0 L209.7,622.1 L208.2,622.2 L206.7,622.3 L205.2,622.4 L203.7,622.6 L202.2,622.7 L200.7,622.8 L199.2,622.9 L197.7,623.0 L196.2,623.2 L194.7,623.3 L193.2,623.4 L191.7,623.5 L190.2,623.6 L188.7,623.8 L187.2,623.9 L185.7,624.0 L184.2,624.1 L182.7,624.2 L181.2,624.4 L179.7,624.5 L178.2,624.6 L176.7,624.7 L175.2,624.8 L173.7,625.0 L172.2,625.1 L170.7,625.2 L169.2,625.3 L167.7,625.5 L166.2,625.6 L164.8,625.7 L163.3,625.8 L161.8,626.0 L160.3,626.1 L158.8,626.2 L157.3,626.3 L155.8,626.5 L154.3,626.6 L152.8,626.7 L151.3,626.9 L149.8,627.0 L148.4,627.1 L146.9,627.3 L145.4,627.4 L143.9,627.5 L142.4,627.7 L140.9,627.8 L139.4,627.9 L138.0,628.1 L136.5,628.2 L135.0,628.4 L133.5,628.5 L132.0,628.7 L130.5,628.8 L129.1,628.9 L127.6,629.1 L126.1,629.2 L124.6,629.4 L123.1,629.6 L121.7,629.7 L120.2,629.9 L118.7,630.0 L117.2,630.2 L117.0,630.2" stroke="#FFA500"/>
<path d="M433.8,77.5 L433.8,79.0 L433.9,80.5 L433.9,82.0 L434.0,83.5 L434.0,85.0 L434.0,86.5 L434.1,87.9 L434.1,89.4 L434.2,90.9 L434.2,92.4 L434.3,93.9 L434.3,95.4 L434.4,96.9 L434.4,98.4 L434.5,99.9 L434.5,101.4 L434.6,102.9 L434.7,104.4 L434.7,105.9 L434.8,107.4 L434.8,108.9 L434.9,110.4 L435.0,111.9 L435.0,113.4 L435.1,114.9 L435.1,116.4 L435.2,117.9 L435.3,119.4 L435.4,120.9 L435.4,122.4 L435.5,123.9 L435.6,125.4 L435.7,126.9 L435.7,128.4 L435.8,129.9 L435.9,131.4 L436.0,132.9 L436.1,134.4 L436.1,135.9 L436.2,137.4 L436.3,138.9 L436.4,140.4 L436.5,141.9 L436.6,143.4 L436.7,144.9 L436.8,146.4 L436.9,147.9 L437.0,149.4 L437.1,150.9 L437.2,152.4 L437.3,153.9 L437.4,155.4 L437.5,156.9 L437.6,158.4 L437.7,159.9 L437.8,161.4 L437.9,162.9 L438.1,164.4 L438.2,165.9 L438.3,167.4 L438.4,168.9 L438.5,170.4 L438.7,171.9 L438.8,173.4 L438.9,174.9 L439.1,176.4 L439.2,177.9 L439.3,179.4 L439.5,180.9 L439.6,182.4 L439.8,183.9 L439.9,185.4 L440.0,186.9 L440.2,188.4 L440.3,189.9 L440.5,191.3 L440.7,192.8 L440.8,194.3 L441.0,195.8 L441.1,197.3 L441.3,198.8 L441.5,200.3 L441.6,201.8 L441.8,203.3 L442.0,204.8 L442.2,206.3 L442.3,207.8 L442.5,209.3 L442.7,210.8 L442.9,212.3 L443.1,213.8 L443.3,215.2 L443.4,216.7 L443.6,218.2 L443.8,219.7 L444.0,221.2 L444.2,222.7 L444.4,224.2 L444.7,225.7 L444.9,227.2 L445.1,228.6 L445.3,230.1 L445.5,231.6 L445.7,233.1 L446.0,234.6 L446.2,236.1 L446.4,237.6 L446.6,239.0 L446.9,240.5 L447.1,242.0 L447.3,243.5 L447.6,245.0 L447.8,246.4 L448.1,247.9 L448.3,249.4 L448.6,250.9 L448.8,252.4 L449.1,253.8 L449.4,255.3 L449.6,256.8 L449.9,258.3 L450.2,259.7 L450.4,261.2 L450.7,262.7 L451.0,264.2 L451.3,265.6 L451.6,267.1 L451.9,268.6 L452.1,270.0 L452.4,271.5 L452.7,273.0 L453.0,274.4 L453.3,275.9 L453.6,277.4 L454.0,278.8 L454.3,280.3 L454.6,281.8 L454.9,283.2 L455.2,284.7 L455.6,286.1 L455.9,287.6 L456.2,289.1 L456.6,290.5 L456.9,292.0 L457.2,293.4 L457.6,294.9 L457.9,296.3 L458.3,297.8 L458.6,299.3 L459.0,300.7 L459.4,302.2 L459.7,303.6 L460.1,305.1 L460.5,306.5 L460.9,307.9 L461.2,309.4 L461.6,310.8 L462.0,312.3 L462.4,313.7 L462.8,315.2 L463.2,316.6 L463.6,318.0 L464.0,319.5 L464.4,320.9 L464.8,322.3 L465.2,323.8 L465.7,325.2 L466.1,326.6 L466.5,328.1 L466.9,329.5 L467.4,330.9 L467.8,332.4 L468.3,333.8 L468.7,335.2 L469.2,336.6 L469.6,338.1 L470.1,339.5 L470.5,340.9 L471.0,342.3 L471.5,343.7 L471.9,345.2 L472.4,346.6 L472.9,348.0 L473.4,349.4 L473.9,350.8 L474.4,352.2 L474.9,353.6 L475.4,355.0 L475.9,356.5 L476.4,357.9 L476.9,359.3 L477.4,360.7 L477.9,362.1 L478.5,363.5 L479.0,364.9 L479.5,366.3 L480.1,367.7 L480.6,369.1 L481.2,370.4 L481.7,371.8 L482.3,373.2 L482.8,374.6 L483.4,376.0 L484.0,377.4 L484.5,378.8 L485.1,380.2 L485.7,381.5 L486.3,382.9 L486.9,384.3 L487.4,385.7 L488.0,387.0 L488.6,388.4 L489.2,389.8 L489.8,391.2 L490.5,392.5 L491.1,393.9 L491.7,395.3 L492.3,396.6 L492.9,398.0 L493.6,399.4 L494.2,400.7 L494.8,402.1 L495.5,403.4 L496.1,404.8 L496.8,406.1 L497.4,407.5 L498.1,408.8 L498.8,410.2 L499.4,411.5 L500.1,412.9 L500.8,414.2 L501.4,415.6 L502.1,416.9 L502.8,418.2 L503.5,419.6 L504.2,420.9 L504.9,422.2 L505.6,423.6 L506.3,424.9 L507.0,426.2 L507.7,427.6 L508.5,428.9 L509.2,430.2 L509.9,431.5 L510.6,432.8 L511.4,434.2 L512.1,435.5 L512.9,436.8 L513.6,438.1 L514.3,439.4 L515.1,440.7 L515.9,442.0 L516.6,443.3 L517.4,444.6 L518.2,445.9 L518.9,447.2 L519.7,448.5 L520.5,449.8 L521.3,451.1 L522.1,452.4 L522.7,453.4 L533.3,476.2 L540.8,497.8 L535.2,518.6 L515.0,538.4 L503.0,547.6" stroke="#FFA500" stroke-dasharray="8.3 8.7" stroke-dashoffset="8.2"/>
<path d="M585.1,77.5 L585.1,79.0 L585.2,80.5 L585.2,82.0 L585.2,83.6 L585.2,85.1 L585.3,86.6 L585.3,88.1 L585.3,89.6 L585.3,91.1 L585.4,92.6 L585.4,94.2 L585.4,95.7 L585.4,97.2 L585.4,98.7 L585.5,100.2 L585.5,101.7 L585.5,103.2 L585.5,104.7 L585.5,106.3 L585.6,107.8 L585.6,109.3 L585.6,110.8 L585.6,112.3 L585.6,113.8 L585.7,115.3 L585.7,116.8 L585.7,118.3 L585.7,119.8 L585.7,121.3 L585.8,122.8 L585.8,124.4 L585.8,125.9 L585.8,127.4 L585.9,128.9 L585.9,130.4 L585.9,131.9 L585.9,133.4 L585.9,134.9 L586.0,136.4 L586.0,137.9 L586.0,139.4 L586.0,140.9 L586.1,142.4 L586.1,143.9 L586.1,145.4 L586.1,146.9 L586.2,148.4 L586.2,149.9 L586.2,151.4 L586.3,152.9 L586.3,154.4 L586.3,155.9 L586.4,157.4 L586.4,158.9 L586.4,160.4 L586.5,161.9 L586.5,163.4 L586.6,164.9 L586.6,166.4 L586.6,167.9 L586.7,169.4 L586.7,170.9 L586.8,172.4 L586.8,173.9 L586.9,175.4 L586.9,176.9 L587.0,178.4 L587.0,179.9 L587.1,181.4 L587.1,182.9 L587.2,184.4 L587.2,185.9 L587.3,187.4 L587.4,188.8 L587.4,190.3 L587.5,191.8 L587.6,193.3 L587.6,194.8 L587.7,196.3 L587.8,197.8 L587.8,199.3 L587.9,200.8 L588.0,202.3 L588.1,203.8 L588.2,205.2 L588.2,206.7 L588.3,208.2 L588.4,209.7 L588.5,211.2 L588.6,212.7 L588.7,214.2 L588.8,215.7 L588.9,217.1 L589.0,218.6 L589.1,220.1 L589.2,221.6 L589.3,223.1 L589.4,224.6 L589.5,226.0 L589.7,227.5 L589.8,229.0 L589.9,230.5 L590.0,232.0 L590.1,233.5 L590.3,234.9 L590.4,236.4 L590.5,237.9 L590.7,239.4 L590.8,240.9 L591.0,242.3 L591.1,243.8 L591.3,245.3 L591.4,246.8 L591.6,248.3 L591.7,249.7 L591.9,251.2 L592.0,252.7 L592.2,254.2 L592.4,255.6 L592.6,257.1 L592.7,258.6 L592.9,260.1 L593.1,261.5 L593.3,263.0 L593.5,264.5 L593.7,266.0 L593.9,267.4 L594.1,268.9 L594.3,270.4 L594.5,271.8 L594.7,273.3 L594.9,274.8 L595.1,276.3 L595.3,277.7 L595.6,279.2 L595.8,280.7 L596.0,282.1 L596.3,283.6 L596.5,285.1 L596.7,286.5 L597.0,288.0 L597.2,289.5 L597.5,290.9 L597.7,292.4 L598.0,293.9 L598.3,295.3 L598.5,296.8 L598.8,298.3 L599.1,299.7 L599.4,301.2 L599.7,302.7 L600.0,304.1 L600.3,305.6 L600.6,307.0 L600.9,308.5 L601.2,310.0 L601.5,311.4 L601.8,312.9 L602.1,314.3 L602.5,315.8 L602.8,317.3 L603.1,318.7 L603.5,320.2 L603.8,321.6 L604.2,323.1 L604.5,324.5 L604.9,326.0 L605.2,327.5 L605.6,328.9 L606.0,330.4 L606.4,331.8 L606.7,333.3 L607.1,334.7 L607.5,336.2 L607.9,337.6 L608.3,339.1 L608.7,340.5 L609.1,342.0 L609.6,343.4 L610.0,344.9 L610.4,346.3 L610.9,347.8 L611.3,349.2 L611.7,350.7 L612.2,352.1 L612.6,353.6 L613.1,355.0 L613.6,356.5 L614.0,357.9 L614.5,359.4 L615.0,360.8 L615.5,362.3 L615.9,363.7 L616.4,365.1 L616.9,366.6 L617.4,368.0 L617.9,369.5 L618.4,370.9 L618.9,372.4 L619.4,373.8 L619.9,375.2 L620.4,376.7 L620.9,378.1 L621.4,379.6 L621.9,381.0 L622.5,382.5 L623.0,383.9 L623.5,385.3 L624.0,386.8 L624.5,388.2 L625.0,389.7 L625.5,391.1 L626.0,392.5 L626.6,394.0 L627.1,395.4 L627.6,396.9 L628.1,398.3 L628.6,399.7 L629.1,401.2 L629.6,402.6 L630.1,404.0 L630.6,405.5 L631.1,406.9 L631.6,408.4 L632.1,409.8 L632.6,411.2 L633.1,412.7 L633.5,414.1 L634.0,415.5 L634.5,417.0 L635.0,418.4 L635.4,419.9 L635.9,421.3 L636.4,422.7 L636.8,424.2 L637.3,425.6 L637.7,427.1 L638.1,428.5 L638.6,429.9 L639.0,431.4 L639.4,432.8 L639.8,434.2 L640.2,435.7 L640.6,437.1 L641.0,438.6 L641.4,440.0 L641.8,441.4 L642.2,442.9 L642.5,444.3 L642.9,445.8 L643.3,447.2 L643.6,448.6 L643.9,450.1 L644.3,451.5 L644.6,453.0 L644.9,454.4 L645.2,455.8 L645.5,457.3 L645.7,458.7 L646.0,460.2 L646.3,461.6 L646.5,463.0 L646.8,464.5 L647.0,465.9 L647.2,467.4 L647.4,468.8 L647.6,470.3 L647.8,471.7 L648.0,473.1 L648.1,474.6 L648.3,476.0 L648.3,476.2 L642.3,498.2 L621.0,518.6 L619.8,519.5 L618.6,520.4 L617.5,521.4 L616.3,522.3 L615.1,523.2 L613.9,524.1 L612.7,525.1 L611.5,526.0 L610.4,526.9 L609.2,527.8 L608.0,528.8 L606.8,529.7 L605.6,530.6 L604.5,531.5 L603.3,532.5 L602.1,533.4 L600.9,534.3 L599.7,535.2 L598.6,536.2 L597.4,537.1 L596.2,538.0 L595.0,539.0 L593.8,539.9 L592.7,540.8 L591.5,541.7 L590.3,542.7 L589.1,543.6 L588.0,544.5 L586.8,545.5 L585.6,546.4 L584.4,547.3 L583.3,548.3 L582.1,549.2 L580.9,550.1 L579.7,551.0 L578.6,552.0 L577.4,552.9 L576.2,553.8 L575.0,554.8 L573.9,555.7 L573.5,556.0 L572.2,556.8 L571.0,557.7 L569.7,558.5 L568.4,559.3 L567.1,560.1 L565.8,560.9 L564.6,561.8 L563.3,562.6 L562.0,563.4 L560.7,564.2 L559.4,564.9 L558.1,565.7 L556.8,566.5 L555.5,567.3 L554.2,568.1 L552.9,568.8 L551.5,569.6 L550.2,570.4 L548.9,571.1 L547.6,571.9 L546.3,572.6 L544.9,573.3 L543.6,574.1 L542.3,574.8 L540.9,575.5 L539.6,576.2 L538.3,576.9 L536.9,577.6 L535.6,578.3 L534.2,579.0 L532.9,579.7 L531.5,580.4 L530.2,581.0 L528.8,581.7 L527.5,582.3 L526.1,583.0 L524.8,583.6 L523.4,584.3 L522.0,584.9 L520.7,585.5 L519.3,586.1 L517.9,586.7 L516.5,587.3 L515.2,587.9 L513.8,588.5 L512.4,589.1 L511.0,589.6 L509.6,590.2 L508.3,590.7 L506.9,591.3 L505.5,591.8 L504.1,592.3 L502.7,592.8 L501.3,593.3 L499.9,593.8 L498.5,594.3 L497.1,594.8 L495.7,595.3 L494.3,595.7 L492.9,596.2 L491.5,596.7 L490.1,597.1 L488.6,597.5 L487.2,598.0 L485.8,598.4 L484.4,598.8 L483.0,599.2 L481.5,599.6 L480.1,600.0 L478.7,600.4 L477.3,600.8 L475.8,601.1 L474.4,601.5 L473.0,601.9 L471.5,602.2 L470.1,602.6 L468.7,602.9 L467.2,603.2 L465.8,603.6 L464.4,603.9 L462.9,604.2 L461.5,604.5 L460.0,604.8 L458.6,605.1 L457.1,605.4 L455.7,605.7 L454.2,606.0 L452.8,606.3 L451.3,606.6 L449.9,606.9 L448.4,607.1 L447.0,607.4 L445.5,607.7 L444.0,607.9 L442.6,608.2 L441.1,608.4 L439.7,608.7 L438.2,608.9 L436.7,609.1 L435.3,609.4 L433.8,609.6 L432.3,609.8 L430.9,610.1 L429.4,610.3 L427.9,610.5 L426.5,610.7 L425.0,610.9 L423.5,611.1 L422.0,611.3 L420.6,611.6 L419.1,611.8 L417.6,612.0 L416.1,612.2 L414.6,612.3 L413.2,612.5 L411.7,612.7 L410.2,612.9 L408.7,613.1 L407.2,613.3 L405.8,613.5 L404.3,613.7 L402.8,613.8 L401.3,614.0 L399.8,614.2 L398.3,614.4 L396.8,614.6 L395.4,614.7 L393.9,614.9 L392.4,615.1 L390.9,615.3 L389.4,615.4 L387.9,615.6 L386.4,615.8 L384.9,616.0 L383.4,616.2 L381.9,616.3 L380.4,616.5 L378.9,616.7 L377.5,616.9 L376.0,617.0 L374.5,617.2 L373.0,617.4 L371.5,617.6 L370.0,617.7 L368.5,617.9 L367.0,618.1 L365.5,618.3 L364.0,618.5 L362.5,618.6 L361.0,618.8 L359.5,619.0 L358.0,619.2 L356.5,619.4 L355.0,619.5 L353.5,619.7 L352.0,619.9 L350.5,620.1 L349.0,620.3 L347.5,620.4 L346.0,620.6 L344.5,620.8 L343.0,621.0 L341.5,621.1 L340.0,621.3 L338.5,621.5 L337.0,621.7 L335.5,621.9 L334.0,622.0 L332.5,622.2 L331.0,622.4 L329.5,622.6 L328.0,622.7 L326.5,622.9 L325.0,623.1 L323.5,623.3 L322.0,623.4 L320.5,623.6 L319.0,623.8 L317.4,623.9 L315.9,624.1 L314.4,624.3 L312.9,624.4 L311.4,624.6 L309.9,624.8 L308.4,624.9 L306.9,625.1 L305.4,625.3 L303.9,625.4 L302.4,625.6 L300.9,625.8 L299.4,625.9 L297.9,626.1 L296.4,626.2 L294.9,626.4 L293.4,626.5 L291.9,626.7 L290.3,626.9 L288.8,627.0 L287.3,627.2 L285.8,627.3 L284.3,627.5 L282.8,627.6 L281.3,627.8 L279.8,627.9 L278.3,628.0 L276.8,628.2 L275.3,628.3 L273.8,628.5 L272.3,628.6 L270.8,628.7 L269.3,628.9 L267.7,629.0 L266.2,629.1 L264.7,629.3 L263.2,629.4 L261.7,629.5 L260.2,629.6 L258.7,629.8 L257.2,629.9 L255.7,630.0 L254.2,630.1 L252.7,630.2 L251.2,630.4 L249.7,630.5 L248.2,630.6 L246.7,630.7 L245.2,630.8 L243.7,630.9 L242.2,631.0 L240.7,631.1 L239.1,631.2 L237.6,631.3 L236.1,631.4 L234.6,631.5 L233.1,631.6 L231.6,631.7 L230.1,631.8 L228.6,631.9 L227.1,631.9 L225.6,632.0 L224.1,632.1 L222.6,632.2 L221.1,632.3 L219.6,632.4 L218.1,632.5 L216.6,632.5 L215.1,632.6 L213.6,632.7 L212.1,632.8 L210.6,632.9 L209.1,632.9 L207.6,633.0 L206.1,633.1 L204.6,633.2 L203.1,633.2 L201.6,633.3 L200.1,633.4 L198.6,633.5 L197.1,633.6 L195.6,633.6 L194.1,633.7 L192.6,633.8 L191.1,633.8 L189.6,633.9 L188.1,634.0 L186.6,634.1 L185.1,634.1 L183.7,634.2 L182.2,634.3 L180.7,634.4 L179.2,634.4 L177.7,634.5 L176.2,634.6 L174.7,634.7 L173.2,634.8 L171.7,634.8 L170.2,634.9 L168.7,635.0 L167.2,635.1 L165.8,635.1 L164.3,635.2 L162.8,635.3 L161.3,635.4 L159.8,635.5 L158.3,635.6 L156.8,635.6 L155.3,635.7 L153.9,635.8 L152.4,635.9 L150.9,636.0 L149.4,636.1 L147.9,636.2 L146.4,636.3 L145.0,636.4 L143.5,636.5 L142.0,636.6 L140.5,636.7 L139.0,636.8 L137.5,636.9 L136.1,637.0 L134.6,637.1 L133.1,637.2 L131.6,637.3 L130.2,637.4 L128.7,637.5 L127.2,637.6 L125.7,637.8 L124.3,637.9 L122.8,638.0 L121.3,638.1 L119.8,638.3 L118.4,638.4 L117.0,638.5" stroke="#FF0000"/>
<path d="M547.8,77.5 L547.8,79.0 L547.8,80.5 L547.8,82.0 L547.8,83.5 L547.8,85.0 L547.8,86.5 L547.8,88.0 L547.8,89.5 L547.8,91.0 L547.8,92.6 L547.8,94.1 L547.8,95.6 L547.8,97.1 L547.8,98.6 L547.8,100.1 L547.8,101.6 L547.8,103.1 L547.8,104.6 L547.8,106.1 L547.8,107.6 L547.8,109.1 L547.8,110.6 L547.8,112.1 L547.8,113.6 L547.8,115.1 L547.8,116.6 L547.8,118.1 L547.9,119.6 L547.9,121.1 L547.9,122.6 L547.9,124.1 L547.9,125.7 L547.9,127.2 L547.9,128.7 L547.9,130.2 L548.0,131.7 L548.0,133.2 L548.0,134.7 L548.0,136.2 L548.0,137.7 L548.1,139.2 L548.1,140.7 L548.1,142.2 L548.1,143.7 L548.2,145.2 L548.2,146.7 L548.2,148.2 L548.3,149.7 L548.3,151.2 L548.3,152.7 L548.4,154.2 L548.4,155.7 L548.4,157.2 L548.5,158.7 L548.5,160.2 L548.5,161.7 L548.6,163.2 L548.6,164.7 L548.7,166.2 L548.7,167.7 L548.8,169.2 L548.8,170.7 L548.9,172.2 L548.9,173.7 L549.0,175.2 L549.1,176.7 L549.1,178.2 L549.2,179.7 L549.2,181.2 L549.3,182.7 L549.4,184.2 L549.5,185.7 L549.5,187.2 L549.6,188.7 L549.7,190.2 L549.8,191.7 L549.8,193.2 L549.9,194.7 L550.0,196.2 L550.1,197.7 L550.2,199.1 L550.3,200.6 L550.4,202.1 L550.4,203.6 L550.5,205.1 L550.6,206.6 L550.7,208.1 L550.9,209.6 L551.0,211.1 L551.1,212.6 L551.2,214.1 L551.3,215.6 L551.4,217.1 L551.5,218.5 L551.6,220.0 L551.8,221.5 L551.9,223.0 L552.0,224.5 L552.2,226.0 L552.3,227.5 L552.4,229.0 L552.6,230.5 L552.7,231.9 L552.8,233.4 L553.0,234.9 L553.1,236.4 L553.3,237.9 L553.5,239.4 L553.6,240.9 L553.8,242.3 L553.9,243.8 L554.1,245.3 L554.3,246.8 L554.4,248.3 L554.6,249.8 L554.8,251.2 L555.0,252.7 L555.2,254.2 L555.4,255.7 L555.5,257.2 L555.7,258.7 L555.9,260.1 L556.1,261.6 L556.3,263.1 L556.5,264.6 L556.8,266.0 L557.0,267.5 L557.2,269.0 L557.4,270.5 L557.6,272.0 L557.9,273.4 L558.1,274.9 L558.3,276.4 L558.6,277.9 L558.8,279.3 L559.0,280.8 L559.3,282.3 L559.5,283.7 L559.8,285.2 L560.1,286.7 L560.3,288.2 L560.6,289.6 L560.9,291.1 L561.1,292.6 L561.4,294.0 L561.7,295.5 L562.0,297.0 L562.3,298.4 L562.6,299.9 L562.8,301.4 L563.1,302.8 L563.5,304.3 L563.8,305.8 L564.1,307.2 L564.4,308.7 L564.7,310.2 L565.0,311.6 L565.4,313.1 L565.7,314.5 L566.0,316.0 L566.4,317.5 L566.7,318.9 L567.1,320.4 L567.4,321.8 L567.8,323.3 L568.1,324.8 L568.5,326.2 L568.8,327.7 L569.2,329.1 L569.6,330.6 L569.9,332.0 L570.3,333.5 L570.7,334.9 L571.1,336.4 L571.5,337.8 L571.9,339.3 L572.3,340.7 L572.7,342.2 L573.1,343.6 L573.5,345.1 L573.9,346.5 L574.3,348.0 L574.7,349.4 L575.1,350.9 L575.5,352.3 L576.0,353.8 L576.4,355.2 L576.8,356.7 L577.2,358.1 L577.7,359.5 L578.1,361.0 L578.5,362.4 L579.0,363.9 L579.4,365.3 L579.9,366.7 L580.3,368.2 L580.8,369.6 L581.2,371.0 L581.7,372.5 L582.2,373.9 L582.6,375.4 L583.1,376.8 L583.6,378.2 L584.0,379.6 L584.5,381.1 L585.0,382.5 L585.5,383.9 L585.9,385.4 L586.4,386.8 L586.9,388.2 L587.4,389.6 L587.9,391.1 L588.4,392.5 L588.9,393.9 L589.4,395.3 L589.9,396.8 L590.4,398.2 L590.9,399.6 L591.4,401.0 L591.9,402.4 L592.4,403.9 L592.9,405.3 L593.4,406.7 L593.9,408.1 L594.4,409.5 L594.9,410.9 L595.5,412.4 L596.0,413.8 L596.5,415.2 L597.0,416.6 L597.5,418.0 L598.1,419.4 L598.6,420.8 L599.1,422.2 L599.7,423.6 L600.2,425.0 L600.7,426.5 L601.3,427.9 L601.8,429.3 L602.3,430.7 L602.9,432.1 L603.4,433.5 L604.0,434.9 L604.5,436.3 L605.1,437.7 L605.6,439.1 L606.1,440.5 L606.7,441.8 L607.2,443.2 L607.8,444.6 L608.3,446.0 L608.9,447.4 L609.5,448.8 L610.0,450.2 L610.6,451.6 L611.1,453.0 L611.7,454.4 L612.2,455.8 L612.8,457.1 L613.4,458.5 L613.9,459.9 L614.5,461.3 L615.0,462.7 L615.6,464.0 L616.2,465.4 L616.7,466.8 L617.3,468.2 L617.9,469.6 L618.4,470.9 L619.0,472.3 L619.6,473.7 L620.1,475.1 L620.6,476.2 L621.4,498.2 L608.8,518.6 L592.0,540.8 L575.0,553.8" stroke="#FF0000" stroke-dasharray="8.3 8.7" stroke-dashoffset="2.9"/>
<path d="M586.9,77.5 L587.0,79.0 L587.0,80.4 L587.1,81.9 L587.1,83.3 L587.2,84.8 L587.2,86.2 L587.3,87.7 L587.3,89.1 L587.4,90.6 L587.5,92.1 L587.5,93.5 L587.6,95.0 L587.6,96.5 L587.7,97.9 L587.8,99.4 L587.8,100.9 L587.9,102.4 L588.0,103.8 L588.0,105.3 L588.1,106.8 L588.2,108.3 L588.3,109.7 L588.3,111.2 L588.4,112.7 L588.5,114.2 L588.6,115.7 L588.7,117.1 L588.7,118.6 L588.8,120.1 L588.9,121.6 L589.0,123.1 L589.1,124.6 L589.2,126.1 L589.3,127.5 L589.3,129.0 L589.4,130.5 L589.5,132.0 L589.6,133.5 L589.7,135.0 L589.8,136.5 L589.9,138.0 L590.0,139.5 L590.1,141.0 L590.2,142.5 L590.3,144.0 L590.5,145.5 L590.6,147.0 L590.7,148.5 L590.8,150.0 L590.9,151.5 L591.0,153.0 L591.1,154.5 L591.3,156.0 L591.4,157.5 L591.5,159.0 L591.6,160.5 L591.8,162.0 L591.9,163.5 L592.0,165.0 L592.2,166.5 L592.3,168.0 L592.4,169.5 L592.6,171.0 L592.7,172.5 L592.9,174.1 L593.0,175.6 L593.2,177.1 L593.3,178.6 L593.5,180.1 L593.6,181.6 L593.8,183.1 L593.9,184.6 L594.1,186.1 L594.3,187.6 L594.4,189.1 L594.6,190.6 L594.8,192.2 L594.9,193.7 L595.1,195.2 L595.3,196.7 L595.5,198.2 L595.6,199.7 L595.8,201.2 L596.0,202.7 L596.2,204.2 L596.4,205.7 L596.6,207.2 L596.8,208.7 L597.0,210.3 L597.2,211.8 L597.4,213.3 L597.6,214.8 L597.8,216.3 L598.0,217.8 L598.2,219.3 L598.4,220.8 L598.7,222.3 L598.9,223.8 L599.1,225.3 L599.3,226.8 L599.6,228.3 L599.8,229.8 L600.0,231.3 L600.3,232.8 L600.5,234.3 L600.7,235.8 L601.0,237.3 L601.2,238.8 L601.5,240.3 L601.7,241.8 L602.0,243.3 L602.2,244.8 L602.5,246.3 L602.8,247.8 L603.0,249.3 L603.3,250.8 L603.6,252.3 L603.9,253.8 L604.1,255.3 L604.4,256.8 L604.7,258.3 L605.0,259.8 L605.3,261.3 L605.6,262.8 L605.9,264.3 L606.2,265.7 L606.5,267.2 L606.8,268.7 L607.1,270.2 L607.4,271.7 L607.7,273.2 L608.1,274.7 L608.4,276.1 L608.7,277.6 L609.0,279.1 L609.4,280.6 L609.7,282.1 L610.0,283.5 L610.4,285.0 L610.7,286.5 L611.1,287.9 L611.4,289.4 L611.8,290.9 L612.1,292.4 L612.5,293.8 L612.9,295.3 L613.2,296.8 L613.6,298.2 L614.0,299.7 L614.4,301.1 L614.8,302.6 L615.1,304.1 L615.5,305.5 L615.9,307.0 L616.3,308.4 L616.7,309.9 L617.1,311.3 L617.6,312.8 L618.0,314.2 L618.4,315.7 L618.8,317.1 L619.2,318.6 L619.7,320.0 L620.1,321.4 L620.5,322.9 L621.0,324.3 L621.4,325.8 L621.9,327.2 L622.3,328.6 L622.8,330.0 L623.2,331.5 L623.7,332.9 L624.1,334.3 L624.6,335.7 L625.1,337.2 L625.6,338.6 L626.1,340.0 L626.5,341.4 L627.0,342.8 L627.5,344.2 L628.0,345.7 L628.5,347.1 L629.0,348.5 L629.6,349.9 L630.1,351.3 L630.6,352.7 L631.1,354.1 L631.6,355.5 L632.2,356.9 L632.7,358.3 L633.2,359.6 L633.8,361.0 L634.3,362.4 L634.9,363.8 L635.5,365.2 L636.0,366.6 L636.6,367.9 L637.2,369.3 L637.7,370.7 L638.3,372.0 L638.9,373.4 L639.5,374.8 L640.1,376.1 L640.7,377.5 L641.3,378.9 L641.9,380.2 L642.5,381.6 L643.1,382.9 L643.7,384.3 L644.4,385.6 L645.0,386.9 L645.6,388.3 L646.3,389.6 L646.9,391.0 L647.6,392.3 L648.2,393.6 L648.9,394.9 L649.5,396.3 L650.2,397.6 L650.9,398.9 L651.6,400.2 L652.2,401.5 L652.9,402.9 L653.6,404.2 L654.3,405.5 L655.0,406.8 L655.7,408.1 L656.4,409.4 L657.1,410.7 L657.9,411.9 L658.6,413.2 L659.3,414.5 L660.1,415.8 L660.8,417.1 L661.6,418.4 L662.3,419.6 L663.1,420.9 L663.8,422.2 L664.6,423.4 L665.4,424.7 L666.1,426.0 L666.9,427.2 L667.7,428.5 L668.5,429.7 L669.3,431.0 L670.1,432.2 L670.9,433.4 L671.7,434.7 L672.5,435.9 L673.4,437.1 L674.2,438.4 L675.0,439.6 L675.9,440.8 L676.7,442.0 L677.6,443.2 L678.4,444.4 L679.3,445.7 L680.2,446.9 L681.0,448.1 L681.9,449.3 L682.8,450.5 L683.7,451.6 L684.6,452.8 L685.5,454.0 L686.4,455.2 L687.3,456.4 L688.2,457.6 L689.1,458.7 L690.0,459.9 L690.9,461.1 L691.9,462.2 L692.8,463.4 L693.7,464.5 L694.7,465.7 L695.6,466.8 L696.6,468.0 L697.5,469.1 L698.5,470.3 L699.5,471.4 L700.4,472.6 L701.4,473.7 L702.4,474.8 L703.4,475.9 L704.4,477.1 L705.3,478.2 L706.3,479.3 L707.3,480.4 L708.3,481.5 L709.3,482.6 L710.4,483.7 L711.4,484.8 L712.4,485.9 L713.4,487.0 L714.4,488.1 L715.5,489.2 L716.5,490.3 L717.5,491.4 L718.6,492.5 L719.6,493.6 L720.7,494.6 L721.7,495.7 L722.8,496.8 L723.8,497.9 L724.9,498.9 L726.0,500.0 L727.1,501.1 L728.1,502.1 L729.2,503.2 L730.3,504.2 L731.4,505.3 L732.5,506.3 L733.5,507.4 L734.6,508.4 L735.7,509.4 L736.8,510.5 L737.9,511.5 L739.0,512.6 L740.2,513.6 L741.3,514.6 L742.4,515.6 L743.5,516.7 L744.6,517.7 L745.7,518.7 L746.9,519.7 L748.0,520.7 L749.1,521.7 L750.3,522.7 L751.4,523.7 L752.5,524.7 L753.7,525.7 L754.8,526.7 L756.0,527.7 L757.1,528.7 L758.3,529.7 L759.4,530.7 L760.6,531.7 L761.8,532.6 L762.9,533.6 L764.1,534.6 L765.2,535.6 L766.4,536.5 L767.6,537.5 L768.8,538.5 L769.9,539.4 L771.1,540.4 L772.3,541.4 L773.5,542.3 L774.7,543.3 L775.9,544.2 L777.0,545.2 L778.2,546.1 L779.4,547.1 L780.6,548.0 L781.8,548.9 L783.0,549.9 L784.2,550.8 L785.4,551.8 L786.6,552.7 L787.8,553.6 L789.0,554.5 L790.2,555.5 L791.4,556.4 L792.6,557.3 L793.9,558.2 L795.1,559.1 L796.3,560.1 L797.5,561.0 L798.7,561.9 L799.9,562.8 L801.2,563.7 L802.4,564.6 L803.6,565.5 L804.8,566.4 L806.0,567.3 L807.3,568.2 L808.5,569.1 L809.7,570.0 L811.0,570.9 L812.2,571.7 L813.4,572.6 L814.6,573.5 L815.9,574.4 L817.1,575.3 L818.3,576.1 L819.6,577.0 L820.8,577.9 L822.0,578.8 L823.3,579.6 L824.5,580.5 L825.8,581.4 L827.0,582.2 L828.2,583.1 L829.5,583.9 L830.7,584.8 L832.0,585.7 L833.2,586.5 L834.4,587.4 L835.7,588.2 L836.9,589.1 L838.2,589.9 L839.4,590.7 L840.6,591.6 L841.9,592.4 L843.1,593.3 L844.3,594.1 L845.5,595.0 L846.7,595.9 L847.9,596.7 L849.1,597.6 L850.3,598.5 L851.4,599.4 L852.5,600.4 L853.6,601.3 L854.6,602.3 L855.7,603.3 L856.7,604.3 L857.6,605.3 L858.6,606.4 L859.5,607.5 L860.3,608.6 L861.1,609.8 L861.9,611.0 L862.6,612.2 L863.3,613.5 L863.9,614.8 L864.5,616.1 L865.1,617.5 L865.5,618.9 L865.9,620.4 L866.3,621.9 L866.6,623.5 L866.8,625.0 L866.9,626.6 L866.9,628.2 L866.9,629.7 L866.7,631.2 L866.4,632.6 L865.9,634.0 L865.3,635.3 L864.6,636.4 L863.8,637.5 L862.8,638.5 L861.7,639.5 L860.6,640.3 L859.3,641.2 L858.0,641.9 L856.7,642.7 L855.3,643.4 L853.9,644.1 L852.5,644.7 L851.1,645.4 L849.6,646.0 L848.2,646.7 L846.8,647.3 L845.4,647.9 L844.0,648.5 L842.6,649.1 L841.2,649.7 L839.8,650.3 L838.4,650.9 L837.0,651.5 L835.6,652.1 L834.2,652.7 L832.8,653.2 L831.4,653.8 L830.0,654.4 L828.6,654.9 L827.2,655.5 L825.8,656.0 L824.4,656.5 L823.0,657.1 L821.6,657.6 L820.2,658.1 L818.8,658.7 L817.4,659.2 L816.0,659.7 L814.6,660.2 L813.2,660.7 L811.8,661.2 L810.4,661.7 L808.9,662.2 L807.5,662.7 L806.1,663.2 L804.7,663.7 L803.3,664.2 L801.9,664.7 L800.4,665.1 L799.0,665.6 L797.6,666.1 L796.2,666.5 L794.7,667.0 L793.3,667.5 L791.9,667.9 L790.5,668.4 L789.0,668.9 L787.6,669.3 L786.2,669.8 L784.8,670.2 L783.3,670.7 L781.9,671.1 L780.5,671.6 L779.0,672.0 L777.6,672.4 L776.2,672.9 L774.7,673.3 L773.3,673.7 L771.9,674.2 L770.4,674.6 L769.0,675.0 L767.6,675.5 L766.1,675.9 L764.7,676.3 L763.3,676.8 L761.8,677.2 L760.4,677.6 L758.9,678.0 L757.5,678.5 L756.1,678.9 L754.6,679.3 L753.2,679.7 L751.7,680.1 L750.3,680.6 L748.9,681.0 L747.4,681.4 L746.0,681.8 L744.6,682.2 L743.1,682.7 L741.7,683.1 L740.2,683.5 L738.8,683.9 L737.4,684.3 L735.9,684.8 L734.5,685.2 L733.0,685.6 L731.6,686.0 L730.2,686.5 L728.7,686.9 L727.3,687.3 L725.8,687.7 L724.4,688.2 L723.0,688.6 L721.5,689.0 L720.1,689.5 L718.7,689.9 L717.2,690.3 L715.8,690.8 L714.4,691.2 L712.9,691.6 L711.5,692.1 L710.1,692.5 L708.6,693.0 L707.2,693.4 L705.8,693.9 L704.3,694.3 L702.9,694.8 L701.5,695.2 L700.0,695.7 L698.6,696.1 L697.2,696.6 L695.8,697.1 L694.3,697.5 L692.9,698.0 L691.5,698.5 L690.1,698.9 L688.6,699.4 L687.2,699.9 L685.8,700.4 L684.4,700.9 L683.0,701.4 L681.5,701.8 L680.1,702.3 L678.7,702.8 L677.3,703.4 L675.9,703.9 L674.5,704.4 L673.1,704.9 L671.7,705.4 L670.2,705.9 L668.8,706.5 L667.4,707.0 L666.0,707.5 L665.3,707.8" stroke="#FF00FF"/>
<path d="M568.3,77.5 L568.4,79.0 L568.4,80.4 L568.5,81.9 L568.6,83.3 L568.7,84.8 L568.7,86.3 L568.8,87.7 L568.9,89.2 L568.9,90.7 L569.0,92.1 L569.1,93.6 L569.2,95.1 L569.2,96.6 L569.3,98.0 L569.4,99.5 L569.5,101.0 L569.5,102.5 L569.6,103.9 L569.7,105.4 L569.8,106.9 L569.8,108.4 L569.9,109.9 L570.0,111.3 L570.1,112.8 L570.2,114.3 L570.2,115.8 L570.3,117.3 L570.4,118.8 L570.5,120.3 L570.6,121.8 L570.7,123.2 L570.8,124.7 L570.8,126.2 L570.9,127.7 L571.0,129.2 L571.1,130.7 L571.2,132.2 L571.3,133.7 L571.4,135.2 L571.5,136.7 L571.6,138.2 L571.7,139.7 L571.8,141.2 L571.9,142.7 L572.0,144.2 L572.1,145.7 L572.2,147.2 L572.3,148.7 L572.4,150.2 L572.5,151.7 L572.6,153.2 L572.7,154.7 L572.8,156.2 L572.9,157.7 L573.1,159.2 L573.2,160.7 L573.3,162.2 L573.4,163.7 L573.5,165.2 L573.7,166.7 L573.8,168.2 L573.9,169.7 L574.0,171.2 L574.2,172.7 L574.3,174.2 L574.4,175.7 L574.6,177.2 L574.7,178.7 L574.8,180.2 L575.0,181.7 L575.1,183.3 L575.3,184.8 L575.4,186.3 L575.6,187.8 L575.7,189.3 L575.9,190.8 L576.0,192.3 L576.2,193.8 L576.3,195.3 L576.5,196.8 L576.7,198.3 L576.8,199.8 L577.0,201.3 L577.2,202.8 L577.3,204.3 L577.5,205.8 L577.7,207.3 L577.9,208.8 L578.1,210.4 L578.2,211.9 L578.4,213.4 L578.6,214.9 L578.8,216.4 L579.0,217.9 L579.2,219.4 L579.4,220.9 L579.6,222.4 L579.8,223.9 L580.0,225.4 L580.2,226.9 L580.4,228.4 L580.6,229.9 L580.9,231.4 L581.1,232.9 L581.3,234.4 L581.5,235.9 L581.8,237.4 L582.0,238.9 L582.2,240.4 L582.5,241.8 L582.7,243.3 L582.9,244.8 L583.2,246.3 L583.4,247.8 L583.7,249.3 L583.9,250.8 L584.2,252.3 L584.5,253.8 L584.7,255.3 L585.0,256.8 L585.3,258.2 L585.5,259.7 L585.8,261.2 L586.1,262.7 L586.4,264.2 L586.7,265.7 L587.0,267.2 L587.3,268.6 L587.5,270.1 L587.8,271.6 L588.2,273.1 L588.5,274.5 L588.8,276.0 L589.1,277.5 L589.4,279.0 L589.7,280.4 L590.1,281.9 L590.4,283.4 L590.7,284.9 L591.0,286.3 L591.4,287.8 L591.7,289.3 L592.1,290.7 L592.4,292.2 L592.8,293.6 L593.1,295.1 L593.5,296.6 L593.9,298.0 L594.2,299.5 L594.6,300.9 L595.0,302.4 L595.4,303.8 L595.8,305.3 L596.2,306.8 L596.5,308.2 L596.9,309.6 L597.3,311.1 L597.8,312.5 L598.2,314.0 L598.6,315.4 L599.0,316.9 L599.4,318.3 L599.8,319.7 L600.3,321.2 L600.7,322.6 L601.2,324.0 L601.6,325.5 L602.0,326.9 L602.5,328.3 L603.0,329.8 L603.4,331.2 L603.9,332.6 L604.4,334.0 L604.8,335.4 L605.3,336.9 L605.8,338.3 L606.3,339.7 L606.8,341.1 L607.3,342.5 L607.8,343.9 L608.3,345.3 L608.8,346.7 L609.3,348.1 L609.9,349.5 L610.4,350.9 L610.9,352.3 L611.4,353.7 L612.0,355.1 L612.5,356.5 L613.1,357.9 L613.6,359.3 L614.2,360.7 L614.8,362.1 L615.3,363.4 L615.9,364.8 L616.5,366.2 L617.1,367.6 L617.7,368.9 L618.3,370.3 L618.9,371.7 L619.5,373.0 L620.1,374.4 L620.7,375.8 L621.3,377.1 L621.9,378.5 L622.6,379.8 L623.2,381.2 L623.8,382.5 L624.5,383.9 L625.1,385.2 L625.8,386.6 L626.4,387.9 L627.1,389.3 L627.8,390.6 L628.4,391.9 L629.1,393.3 L629.8,394.6 L630.5,395.9 L631.2,397.2 L631.9,398.6 L632.6,399.9 L633.3,401.2 L634.0,402.5 L634.7,403.8 L635.4,405.1 L636.1,406.4 L636.9,407.7 L637.6,409.0 L638.3,410.3 L639.1,411.6 L639.8,412.9 L640.6,414.2 L641.3,415.5 L642.1,416.8 L642.9,418.0 L643.6,419.3 L644.4,420.6 L645.2,421.9 L646.0,423.1 L646.8,424.4 L647.6,425.7 L648.4,426.9 L649.2,428.2 L650.0,429.4 L650.8,430.7 L651.6,431.9 L652.4,433.2 L653.2,434.4 L654.1,435.7 L654.9,436.9 L655.8,438.1 L656.6,439.4 L657.5,440.6 L658.3,441.8 L659.2,443.0 L660.0,444.3 L660.9,445.5 L661.8,446.7 L662.7,447.9 L663.5,449.1 L664.4,450.3 L665.3,451.5 L666.2,452.7 L667.1,453.9 L668.0,455.1 L668.9,456.3 L669.9,457.4 L670.8,458.6 L671.7,459.8 L672.6,461.0 L673.6,462.1 L674.5,463.3 L675.5,464.5 L676.4,465.6 L677.4,466.8 L678.3,467.9 L679.3,469.1 L680.2,470.2 L681.2,471.4 L682.2,472.5 L683.2,473.6 L684.2,474.8 L685.1,475.9 L686.1,477.0 L687.1,478.1 L688.1,479.2 L689.1,480.4 L690.2,481.5 L691.2,482.6 L692.2,483.7 L693.2,484.8 L694.2,485.9 L695.3,487.0 L696.3,488.1 L697.3,489.1 L698.4,490.2 L699.4,491.3 L700.5,492.4 L701.5,493.4 L702.6,494.5 L703.7,495.6 L704.7,496.6 L705.8,497.7 L706.9,498.8 L707.9,499.8 L709.0,500.9 L710.1,501.9 L711.2,502.9 L712.3,504.0 L713.4,505.0 L714.5,506.0 L715.6,507.1 L716.7,508.1 L717.8,509.1 L718.9,510.1 L720.0,511.1 L721.1,512.1 L722.3,513.1 L723.4,514.1 L724.5,515.1 L725.6,516.1 L726.8,517.1 L727.9,518.1 L729.0,519.1 L730.2,520.1 L731.3,521.1 L732.5,522.0 L733.6,523.0 L734.8,524.0 L736.0,524.9 L737.1,525.9 L738.3,526.9 L739.5,527.8 L740.6,528.8 L741.8,529.7 L743.0,530.6 L744.1,531.6 L745.3,532.5 L746.5,533.4 L747.7,534.4 L748.9,535.3 L750.1,536.2 L751.3,537.1 L752.5,538.0 L753.7,539.0 L754.9,539.9 L756.1,540.8 L757.3,541.7 L758.5,542.6 L759.7,543.5 L760.9,544.3 L762.1,545.2 L763.4,546.1 L764.6,547.0 L765.8,547.9 L767.0,548.7 L768.3,549.6 L769.5,550.5 L770.7,551.3 L772.0,552.2 L773.2,553.0 L774.4,553.9 L775.7,554.7 L776.9,555.6 L778.2,556.4 L779.4,557.2 L780.7,558.1 L781.9,558.9 L783.2,559.7 L784.4,560.5 L785.7,561.4 L786.9,562.2 L788.2,563.0 L789.4,563.8 L790.7,564.6 L792.0,565.4 L793.2,566.2 L794.5,567.0 L795.8,567.8 L797.0,568.6 L798.3,569.3 L799.6,570.1 L800.9,570.9 L802.1,571.7 L803.4,572.4 L804.7,573.2 L806.0,574.0 L807.2,574.7 L808.5,575.5 L809.8,576.2 L811.1,577.0 L812.4,577.8 L813.6,578.5 L814.9,579.3 L816.2,580.0 L817.4,580.8 L818.7,581.6 L820.0,582.3 L821.2,583.1 L822.5,583.9 L823.8,584.7 L825.0,585.5 L826.3,586.2 L827.5,587.0 L828.7,587.8 L830.0,588.7 L831.2,589.5 L832.4,590.3 L833.7,591.1 L834.9,592.0 L836.1,592.8 L837.3,593.7 L838.5,594.5 L839.7,595.4 L840.9,596.3 L842.1,597.2 L843.2,598.1 L844.4,599.0 L845.6,599.9 L846.7,600.8 L847.9,601.8 L849.0,602.8 L850.1,603.7 L851.2,604.7 L852.3,605.7 L853.4,606.7 L854.5,607.8 L855.6,608.8 L856.7,609.9 L857.7,611.0 L858.8,612.1 L859.8,613.2 L860.8,614.3 L861.8,615.5 L862.8,616.7 L863.8,617.8 L864.8,619.1 L865.8,620.3 L866.3,621.0" stroke="#FF00FF" stroke-dasharray="8.3 8.7" stroke-dashoffset="8.3"/>
<path d="M732.9,77.5 L733.0,79.0 L733.0,80.5 L733.1,82.0 L733.2,83.5 L733.2,85.0 L733.3,86.5 L733.4,88.0 L733.5,89.5 L733.5,91.0 L733.6,92.5 L733.7,94.0 L733.8,95.5 L733.8,97.0 L733.9,98.5 L734.0,100.0 L734.1,101.5 L734.2,103.0 L734.2,104.5 L734.3,106.0 L734.4,107.5 L734.5,109.0 L734.6,110.5 L734.7,112.0 L734.7,113.5 L734.8,115.0 L734.9,116.5 L735.0,118.0 L735.1,119.5 L735.2,121.0 L735.3,122.5 L735.4,124.0 L735.5,125.5 L735.6,127.0 L735.7,128.5 L735.8,130.0 L735.9,131.5 L736.0,133.1 L736.1,134.6 L736.2,136.1 L736.3,137.6 L736.4,139.1 L736.5,140.6 L736.6,142.1 L736.8,143.6 L736.9,145.1 L737.0,146.6 L737.1,148.1 L737.2,149.6 L737.3,151.1 L737.5,152.6 L737.6,154.1 L737.7,155.6 L737.8,157.1 L738.0,158.6 L738.1,160.1 L738.2,161.6 L738.4,163.1 L738.5,164.6 L738.6,166.1 L738.8,167.6 L738.9,169.1 L739.1,170.6 L739.2,172.1 L739.4,173.6 L739.5,175.1 L739.7,176.6 L739.8,178.1 L740.0,179.6 L740.1,181.1 L740.3,182.6 L740.4,184.1 L740.6,185.6 L740.8,187.1 L740.9,188.6 L741.1,190.1 L741.3,191.6 L741.5,193.1 L741.6,194.6 L741.8,196.1 L742.0,197.6 L742.2,199.1 L742.4,200.5 L742.5,202.0 L742.7,203.5 L742.9,205.0 L743.1,206.5 L743.3,208.0 L743.5,209.5 L743.7,211.0 L743.9,212.5 L744.1,214.0 L744.3,215.4 L744.5,216.9 L744.8,218.4 L745.0,219.9 L745.2,221.4 L745.4,222.9 L745.6,224.4 L745.9,225.8 L746.1,227.3 L746.3,228.8 L746.6,230.3 L746.8,231.8 L747.0,233.3 L747.3,234.7 L747.5,236.2 L747.8,237.7 L748.0,239.2 L748.3,240.6 L748.5,242.1 L748.8,243.6 L749.0,245.1 L749.3,246.5 L749.6,248.0 L749.8,249.5 L750.1,251.0 L750.4,252.4 L750.7,253.9 L751.0,255.4 L751.2,256.8 L751.5,258.3 L751.8,259.8 L752.1,261.2 L752.4,262.7 L752.7,264.1 L753.0,265.6 L753.3,267.1 L753.6,268.5 L753.9,270.0 L754.3,271.4 L754.6,272.9 L754.9,274.4 L755.2,275.8 L755.6,277.3 L755.9,278.7 L756.2,280.2 L756.6,281.6 L756.9,283.1 L757.3,284.5 L757.6,286.0 L758.0,287.4 L758.3,288.9 L758.7,290.3 L759.0,291.8 L759.4,293.2 L759.8,294.6 L760.2,296.1 L760.5,297.5 L760.9,299.0 L761.3,300.4 L761.7,301.8 L762.1,303.3 L762.5,304.7 L762.9,306.1 L763.3,307.6 L763.7,309.0 L764.1,310.4 L764.5,311.8 L764.9,313.3 L765.4,314.7 L765.8,316.1 L766.2,317.5 L766.7,319.0 L767.1,320.4 L767.5,321.8 L768.0,323.2 L768.4,324.6 L768.9,326.0 L769.3,327.4 L769.8,328.9 L770.3,330.3 L770.7,331.7 L771.2,333.1 L771.7,334.5 L772.2,335.9 L772.7,337.3 L773.1,338.7 L773.6,340.1 L774.1,341.5 L774.6,342.9 L775.2,344.3 L775.7,345.7 L776.2,347.1 L776.7,348.5 L777.2,349.8 L777.8,351.2 L778.3,352.6 L778.8,354.0 L779.4,355.4 L779.9,356.8 L780.5,358.1 L781.0,359.5 L781.6,360.9 L782.1,362.3 L782.7,363.6 L783.3,365.0 L783.9,366.4 L784.5,367.8 L785.0,369.1 L785.6,370.5 L786.2,371.9 L786.8,373.2 L787.4,374.6 L788.1,375.9 L788.7,377.3 L789.3,378.6 L789.9,380.0 L790.5,381.3 L791.2,382.7 L791.8,384.0 L792.5,385.4 L793.1,386.7 L793.8,388.1 L794.4,389.4 L795.1,390.7 L795.8,392.1 L796.4,393.4 L797.1,394.7 L797.8,396.1 L798.5,397.4 L799.2,398.7 L799.9,400.1 L800.6,401.4 L801.3,402.7 L802.0,404.0 L802.7,405.3 L803.5,406.6 L804.2,408.0 L804.9,409.3 L805.7,410.6 L806.4,411.9 L807.2,413.2 L807.9,414.5 L808.7,415.8 L809.4,417.1 L810.2,418.4 L811.0,419.7 L811.8,421.0 L812.5,422.3 L813.3,423.6 L814.1,424.8 L814.9,426.1 L815.7,427.4 L816.5,428.7 L817.3,430.0 L818.2,431.2 L819.0,432.5 L819.8,433.8 L820.6,435.1 L821.5,436.3 L822.3,437.6 L823.1,438.9 L824.0,440.1 L824.8,441.4 L825.7,442.6 L826.5,443.9 L827.4,445.2 L828.3,446.4 L829.1,447.7 L830.0,448.9 L830.9,450.2 L831.7,451.4 L832.6,452.6 L833.5,453.9 L834.4,455.1 L835.3,456.4 L836.2,457.6 L837.1,458.8 L838.0,460.1 L838.9,461.3 L839.8,462.5 L840.7,463.7 L841.6,465.0 L842.5,466.2 L843.4,467.4 L844.3,468.6 L845.2,469.8 L846.2,471.1 L847.1,472.3 L848.0,473.5 L849.0,474.7 L849.9,475.9 L850.8,477.1 L851.8,478.3 L852.7,479.5 L853.6,480.7 L854.6,481.9 L855.5,483.1 L856.5,484.3 L857.4,485.5 L858.4,486.7 L859.3,487.8 L860.3,489.0 L861.3,490.2 L862.2,491.4 L863.2,492.6 L864.1,493.8 L865.1,494.9 L866.1,496.1 L867.0,497.3 L868.0,498.4 L869.0,499.6 L870.0,500.8 L870.9,501.9 L871.9,503.1 L872.9,504.3 L873.9,505.4 L874.8,506.6 L875.8,507.7 L876.8,508.9 L877.8,510.0 L878.7,511.2 L879.7,512.3 L880.7,513.5 L881.7,514.6 L882.7,515.7 L883.7,516.9 L884.6,518.0 L885.6,519.2 L886.6,520.3 L887.6,521.4 L888.6,522.5 L889.6,523.7 L890.6,524.8 L891.6,525.9 L892.5,527.0 L893.5,528.2 L894.5,529.3 L895.5,530.4 L896.5,531.5 L897.5,532.6 L898.5,533.7 L899.4,534.8 L900.4,535.9 L901.4,537.0 L902.4,538.1 L903.4,539.2 L904.4,540.3 L905.4,541.4 L906.3,542.5 L907.3,543.6 L908.3,544.7 L909.3,545.8 L910.3,546.9 L911.2,548.0 L912.2,549.1 L913.2,550.1 L914.2,551.2 L915.2,552.3 L916.1,553.4 L917.1,554.4 L918.1,555.5 L919.0,556.6 L919.7,557.3 L920.7,558.5 L921.6,559.8 L922.6,561.1 L923.5,562.4 L924.4,563.7 L925.4,565.1 L926.2,566.5 L927.1,567.9 L927.9,569.3 L928.7,570.7 L929.5,572.1 L930.2,573.6 L930.8,575.0 L931.4,576.5 L932.0,577.9 L932.4,579.4 L932.8,580.8 L933.2,582.3 L933.4,583.7 L933.6,585.1 L933.7,586.5 L933.7,587.9 L933.6,589.3 L933.5,590.7 L933.2,592.0 L932.9,593.3 L932.5,594.5 L932.1,595.8 L931.6,597.0 L931.0,598.2 L930.3,599.3 L929.6,600.4 L928.9,601.4 L928.0,602.5 L927.2,603.4 L926.3,604.4 L925.3,605.3 L924.3,606.2 L923.2,607.0 L922.1,607.8 L921.0,608.6 L919.8,609.4 L918.6,610.1 L917.4,610.8 L916.1,611.5 L914.8,612.1 L913.5,612.8 L912.1,613.4 L910.7,614.0 L909.3,614.6 L907.9,615.1 L906.5,615.7 L905.0,616.2 L903.5,616.7 L902.1,617.2 L900.6,617.7 L899.1,618.1 L897.6,618.6 L896.1,619.1 L894.6,619.5 L893.1,620.0 L891.6,620.4 L890.1,620.8 L888.6,621.2 L887.1,621.7 L885.6,622.1 L884.1,622.5 L882.6,622.9 L881.1,623.3 L879.6,623.7 L878.1,624.0 L876.6,624.4 L875.1,624.8 L873.6,625.1 L872.1,625.5 L870.6,625.9 L869.1,626.2 L867.6,626.5 L866.1,626.9 L864.6,627.2 L863.1,627.5 L861.6,627.9 L860.1,628.2 L858.7,628.5 L857.2,628.8 L855.7,629.1 L854.2,629.4 L852.7,629.7 L851.2,630.0 L849.7,630.3 L848.2,630.5 L846.7,630.8 L845.2,631.1 L843.7,631.4 L842.3,631.6 L840.8,631.9 L839.3,632.1 L837.8,632.4 L836.3,632.6 L834.8,632.9 L833.3,633.1 L831.8,633.4 L830.3,633.6 L828.9,633.8 L827.4,634.0 L825.9,634.3 L824.4,634.5 L822.9,634.7 L821.4,634.9 L819.9,635.1 L818.4,635.3 L817.0,635.5 L815.5,635.7 L814.0,635.9 L812.5,636.1 L811.0,636.3 L809.5,636.5 L808.0,636.7 L806.6,636.9 L805.1,637.1 L803.6,637.2 L802.1,637.4 L800.6,637.6 L799.1,637.8 L797.6,637.9 L796.2,638.1 L794.7,638.3 L793.2,638.4 L791.7,638.6 L790.2,638.8 L788.7,638.9 L787.2,639.1 L785.8,639.3 L784.3,639.4 L782.8,639.6 L781.3,639.7 L779.8,639.9 L778.3,640.0 L776.8,640.2 L775.4,640.3 L773.9,640.5 L772.4,640.6 L770.9,640.8 L769.4,640.9 L767.9,641.1 L766.4,641.2 L764.9,641.4 L763.5,641.5 L762.0,641.6 L760.5,641.8 L759.0,641.9 L757.5,642.1 L756.0,642.2 L754.5,642.4 L753.0,642.5 L751.6,642.6 L750.1,642.8 L748.6,642.9 L747.1,643.0 L745.6,643.2 L744.1,643.3 L742.6,643.5 L741.1,643.6 L739.7,643.7 L738.2,643.9 L736.7,644.0 L735.2,644.1 L733.7,644.3 L732.2,644.4 L730.7,644.5 L729.2,644.7 L727.7,644.8 L726.3,644.9 L724.8,645.1 L723.3,645.2 L721.8,645.3 L720.3,645.5 L718.8,645.6 L717.3,645.7 L715.8,645.8 L714.3,646.0 L712.8,646.1 L711.4,646.2 L709.9,646.3 L708.4,646.5 L706.9,646.6 L705.4,646.7 L703.9,646.8 L702.4,647.0 L700.9,647.1 L699.4,647.2 L697.9,647.3 L696.4,647.5 L695.0,647.6 L693.5,647.7 L692.0,647.8 L690.5,647.9 L689.0,648.1 L687.5,648.2 L686.0,648.3 L684.5,648.4 L683.0,648.5 L681.5,648.7 L680.0,648.8 L678.5,648.9 L677.0,649.0 L675.6,649.1 L674.1,649.2 L672.6,649.3 L671.1,649.5 L669.6,649.6 L668.1,649.7 L666.6,649.8 L665.1,649.9 L663.6,650.0 L662.1,650.1 L660.6,650.3 L659.1,650.4 L657.6,650.5 L656.1,650.6 L654.7,650.7 L653.2,650.8 L651.7,650.9 L650.2,651.0 L648.7,651.1 L647.2,651.2 L645.7,651.3 L644.2,651.5 L642.7,651.6 L641.2,651.7 L639.7,651.8 L638.2,651.9 L636.7,652.0 L635.2,652.1 L633.7,652.2 L632.2,652.3 L630.7,652.4 L629.2,652.5 L627.8,652.6 L626.3,652.7 L624.8,652.8 L623.3,652.9 L621.8,653.0 L620.3,653.1 L618.8,653.2 L617.3,653.3 L615.8,653.4 L614.3,653.5 L612.8,653.6 L611.3,653.7 L609.8,653.8 L608.3,653.9 L606.8,654.0 L605.3,654.1 L603.8,654.2 L602.3,654.3 L600.8,654.4 L599.3,654.5 L597.8,654.6 L596.3,654.7 L594.8,654.8 L593.4,654.9 L591.9,655.0 L590.4,655.1 L588.9,655.2 L587.4,655.3 L585.9,655.4 L584.4,655.5 L582.9,655.6 L581.4,655.7 L579.9,655.8 L578.4,655.9 L576.9,655.9 L575.4,656.0 L573.9,656.1 L572.4,656.2 L570.9,656.3 L569.4,656.4 L567.9,656.5 L566.4,656.6 L564.9,656.7 L563.4,656.8 L561.9,656.9 L560.4,657.0 L558.9,657.0 L557.4,657.1 L555.9,657.2 L554.4,657.3 L552.9,657.4 L551.4,657.5 L549.9,657.6 L548.4,657.7 L546.9,657.8 L545.4,657.8 L543.9,657.9 L542.4,658.0 L540.9,658.1 L539.4,658.2 L538.0,658.3 L536.5,658.4 L535.0,658.5 L533.5,658.5 L532.0,658.6 L530.5,658.7 L529.0,658.8 L527.5,658.9 L526.0,659.0 L524.5,659.1 L523.0,659.1 L521.5,659.2 L520.0,659.3 L518.5,659.4 L517.0,659.5 L515.5,659.6 L514.0,659.7 L512.5,659.7 L511.0,659.8 L509.5,659.9 L508.0,660.0 L506.5,660.1 L505.0,660.2 L503.5,660.2 L502.0,660.3 L500.5,660.4 L499.0,660.5 L497.5,660.6 L496.0,660.7 L494.5,660.7 L493.0,660.8 L491.5,660.9 L490.0,661.0 L488.5,661.1 L487.0,661.1 L485.5,661.2 L484.0,661.3 L482.5,661.4 L481.0,661.5 L479.5,661.5 L478.0,661.6 L476.5,661.7 L475.0,661.8 L473.5,661.9 L472.0,661.9 L470.5,662.0 L469.0,662.1 L467.5,662.2 L466.0,662.3 L464.5,662.3 L463.0,662.4 L461.5,662.5 L460.0,662.6 L458.5,662.7 L457.0,662.7 L455.5,662.8 L454.0,662.9 L452.5,663.0 L451.0,663.1 L449.5,663.1 L448.0,663.2 L446.5,663.3 L445.0,663.4 L443.5,663.5 L442.0,663.5 L440.5,663.6 L439.0,663.7 L437.5,663.8 L436.0,663.8 L434.5,663.9 L433.0,664.0 L431.5,664.1 L430.0,664.2 L428.5,664.2 L427.0,664.3 L425.5,664.4 L424.0,664.5 L422.5,664.5 L421.0,664.6 L419.5,664.7 L418.0,664.8 L416.5,664.9 L415.0,664.9 L413.5,665.0 L412.0,665.1 L410.5,665.2 L409.0,665.3 L407.5,665.3 L406.0,665.4 L404.5,665.5 L403.0,665.6 L401.5,665.6 L400.0,665.7 L398.5,665.8 L397.0,665.9 L395.5,666.0 L394.0,666.0 L392.5,666.1 L391.0,666.2 L389.5,666.3 L388.0,666.3 L386.5,666.4 L385.0,666.5 L383.5,666.6 L382.0,666.7 L380.5,666.7 L379.0,666.8 L377.5,666.9 L376.0,667.0 L374.5,667.0 L373.0,667.1 L371.5,667.2 L370.0,667.3 L368.5,667.4 L367.0,667.4 L365.5,667.5 L364.0,667.6 L362.5,667.7 L361.0,667.7 L359.5,667.8 L358.0,667.9 L356.5,668.0 L355.0,668.1 L353.5,668.1 L352.0,668.2 L350.5,668.3 L349.0,668.4 L347.5,668.5 L346.0,668.5 L344.5,668.6 L343.0,668.7 L341.5,668.8 L340.0,668.9 L338.5,668.9 L337.0,669.0 L335.5,669.1 L334.0,669.2 L332.5,669.3 L331.0,669.3 L329.5,669.4 L328.0,669.5 L326.5,669.6 L325.0,669.7 L323.5,669.7 L322.0,669.8 L320.5,669.9 L319.0,670.0 L317.5,670.1 L316.0,670.1 L314.5,670.2 L313.0,670.3 L311.5,670.4 L310.0,670.5 L308.5,670.6 L307.0,670.6 L305.5,670.7 L304.0,670.8 L302.5,670.9 L301.0,671.0 L299.5,671.1 L298.0,671.1 L296.5,671.2 L295.0,671.3 L293.5,671.4 L292.0,671.5 L290.5,671.6 L289.0,671.6 L287.5,671.7 L286.0,671.8 L284.5,671.9 L283.0,672.0 L281.5,672.1 L280.1,672.2 L278.6,672.2 L277.1,672.3 L275.6,672.4 L274.1,672.5 L272.6,672.6 L271.1,672.7 L269.6,672.8 L268.1,672.8 L266.6,672.9 L265.1,673.0 L263.6,673.1 L262.1,673.2 L260.6,673.3 L259.1,673.4 L257.6,673.5 L256.1,673.5 L254.6,673.6 L253.1,673.7 L251.6,673.8 L250.1,673.9 L248.6,674.0 L247.1,674.1 L245.6,674.2 L244.1,674.3 L242.6,674.4 L241.1,674.4 L239.6,674.5 L238.1,674.6 L236.6,674.7 L235.1,674.8 L233.6,674.9 L232.1,675.0 L230.6,675.1 L229.1,675.2 L227.6,675.3 L226.1,675.4 L224.6,675.5 L223.1,675.6 L221.6,675.7 L220.2,675.8 L218.7,675.8 L217.2,675.9 L215.7,676.0 L214.2,676.1 L212.7,676.2 L211.2,676.3 L209.7,676.4 L208.2,676.5 L206.7,676.6 L205.2,676.7 L203.7,676.8 L202.2,676.9 L200.7,677.0 L199.2,677.1 L197.7,677.2 L196.2,677.3 L194.7,677.4 L193.2,677.5 L191.7,677.6 L190.2,677.7 L188.7,677.8 L187.2,677.9 L185.8,678.0 L184.3,678.1 L182.8,678.2 L181.3,678.3 L179.8,678.4 L178.3,678.5 L176.8,678.6 L175.3,678.7 L173.8,678.8 L172.3,678.9 L170.8,679.1 L169.3,679.2 L167.8,679.3 L166.3,679.4 L164.8,679.5 L163.3,679.6 L161.8,679.7 L160.3,679.8 L158.9,679.9 L157.4,680.0 L155.9,680.1 L154.4,680.2 L152.9,680.3 L151.4,680.5 L149.9,680.6 L148.4,680.7 L146.9,680.8 L145.4,680.9 L143.9,681.0 L142.4,681.1 L140.9,681.2 L139.4,681.3 L137.9,681.5 L136.5,681.6 L135.0,681.7 L133.5,681.8 L132.0,681.9 L130.5,682.0 L129.0,682.2 L127.5,682.3 L126.0,682.4 L124.5,682.5 L123.0,682.6 L121.5,682.7 L120.0,682.9 L118.6,683.0 L117.1,683.1 L117.0,683.1" stroke="#0000FF"/>
<path d="M696.9,77.5 L697.0,79.0 L697.1,80.4 L697.2,81.9 L697.3,83.4 L697.4,84.8 L697.5,86.3 L697.6,87.8 L697.7,89.2 L697.8,90.7 L697.9,92.2 L698.0,93.6 L698.1,95.1 L698.2,96.6 L698.2,98.1 L698.3,99.5 L698.4,101.0 L698.5,102.5 L698.6,104.0 L698.7,105.5 L698.8,106.9 L698.9,108.4 L699.0,109.9 L699.1,111.4 L699.2,112.9 L699.3,114.4 L699.4,115.8 L699.5,117.3 L699.6,118.8 L699.7,120.3 L699.8,121.8 L699.9,123.3 L700.0,124.8 L700.1,126.3 L700.2,127.8 L700.3,129.2 L700.4,130.7 L700.6,132.2 L700.7,133.7 L700.8,135.2 L700.9,136.7 L701.0,138.2 L701.1,139.7 L701.2,141.2 L701.3,142.7 L701.4,144.2 L701.6,145.7 L701.7,147.2 L701.8,148.7 L701.9,150.2 L702.0,151.7 L702.1,153.2 L702.3,154.7 L702.4,156.2 L702.5,157.7 L702.6,159.2 L702.8,160.7 L702.9,162.2 L703.0,163.7 L703.2,165.2 L703.3,166.7 L703.4,168.2 L703.6,169.7 L703.7,171.2 L703.8,172.7 L704.0,174.2 L704.1,175.7 L704.3,177.2 L704.4,178.7 L704.5,180.2 L704.7,181.7 L704.8,183.2 L705.0,184.8 L705.2,186.3 L705.3,187.8 L705.5,189.3 L705.6,190.8 L705.8,192.3 L705.9,193.8 L706.1,195.3 L706.3,196.8 L706.5,198.3 L706.6,199.8 L706.8,201.3 L707.0,202.8 L707.2,204.3 L707.3,205.8 L707.5,207.3 L707.7,208.8 L707.9,210.3 L708.1,211.8 L708.3,213.3 L708.5,214.8 L708.7,216.3 L708.9,217.8 L709.1,219.3 L709.3,220.8 L709.5,222.3 L709.7,223.8 L709.9,225.3 L710.1,226.8 L710.3,228.3 L710.5,229.8 L710.8,231.3 L711.0,232.8 L711.2,234.3 L711.4,235.8 L711.7,237.3 L711.9,238.7 L712.2,240.2 L712.4,241.7 L712.6,243.2 L712.9,244.7 L713.1,246.2 L713.4,247.7 L713.6,249.2 L713.9,250.7 L714.2,252.2 L714.4,253.6 L714.7,255.1 L715.0,256.6 L715.3,258.1 L715.5,259.6 L715.8,261.1 L716.1,262.5 L716.4,264.0 L716.7,265.5 L717.0,267.0 L717.3,268.5 L717.6,269.9 L717.9,271.4 L718.2,272.9 L718.5,274.3 L718.8,275.8 L719.1,277.3 L719.5,278.8 L719.8,280.2 L720.1,281.7 L720.5,283.2 L720.8,284.6 L721.1,286.1 L721.5,287.6 L721.8,289.0 L722.2,290.5 L722.6,291.9 L722.9,293.4 L723.3,294.9 L723.6,296.3 L724.0,297.8 L724.4,299.2 L724.8,300.7 L725.2,302.1 L725.6,303.6 L726.0,305.0 L726.4,306.5 L726.8,307.9 L727.2,309.4 L727.6,310.8 L728.0,312.3 L728.4,313.7 L728.8,315.1 L729.3,316.6 L729.7,318.0 L730.1,319.4 L730.6,320.9 L731.0,322.3 L731.5,323.7 L731.9,325.2 L732.4,326.6 L732.8,328.0 L733.3,329.4 L733.8,330.9 L734.3,332.3 L734.8,333.7 L735.2,335.1 L735.7,336.5 L736.2,337.9 L736.7,339.3 L737.2,340.8 L737.8,342.2 L738.3,343.6 L738.8,345.0 L739.3,346.4 L739.9,347.8 L740.4,349.2 L740.9,350.6 L741.5,352.0 L742.0,353.4 L742.6,354.7 L743.2,356.1 L743.7,357.5 L744.3,358.9 L744.9,360.3 L745.5,361.7 L746.0,363.0 L746.6,364.4 L747.2,365.8 L747.8,367.2 L748.4,368.5 L749.0,369.9 L749.7,371.3 L750.3,372.6 L750.9,374.0 L751.5,375.4 L752.2,376.7 L752.8,378.1 L753.5,379.4 L754.1,380.8 L754.8,382.1 L755.4,383.5 L756.1,384.8 L756.7,386.2 L757.4,387.5 L758.1,388.8 L758.8,390.2 L759.5,391.5 L760.2,392.8 L760.8,394.2 L761.5,395.5 L762.2,396.8 L763.0,398.1 L763.7,399.4 L764.4,400.8 L765.1,402.1 L765.8,403.4 L766.6,404.7 L767.3,406.0 L768.0,407.3 L768.8,408.6 L769.5,409.9 L770.3,411.2 L771.0,412.5 L771.8,413.8 L772.6,415.1 L773.3,416.3 L774.1,417.6 L774.9,418.9 L775.7,420.2 L776.5,421.4 L777.2,422.7 L778.0,424.0 L778.8,425.2 L779.6,426.5 L780.5,427.8 L781.3,429.0 L782.1,430.3 L782.9,431.5 L783.7,432.8 L784.6,434.0 L785.4,435.3 L786.2,436.5 L787.1,437.7 L787.9,439.0 L788.8,440.2 L789.6,441.4 L790.5,442.6 L791.3,443.9 L792.2,445.1 L793.1,446.3 L793.9,447.5 L794.8,448.7 L795.7,449.9 L796.6,451.1 L797.5,452.3 L798.4,453.5 L799.2,454.7 L800.1,455.9 L801.0,457.1 L802.0,458.2 L802.9,459.4 L803.8,460.6 L804.7,461.8 L805.6,462.9 L806.6,464.1 L807.5,465.3 L808.4,466.4 L809.4,467.6 L810.3,468.7 L811.2,469.9 L812.2,471.0 L813.1,472.2 L814.1,473.3 L815.1,474.4 L816.0,475.6 L817.0,476.7 L818.0,477.8 L818.9,478.9 L819.9,480.0 L820.9,481.2 L821.9,482.3 L822.9,483.4 L823.9,484.5 L824.9,485.6 L825.8,486.7 L826.9,487.8 L827.9,488.8 L828.9,489.9 L829.9,491.0 L830.9,492.1 L831.9,493.2 L832.9,494.2 L834.0,495.3 L835.0,496.4 L836.0,497.4 L837.1,498.5 L838.1,499.5 L839.2,500.6 L840.2,501.6 L841.3,502.7 L842.3,503.7 L843.4,504.8 L844.4,505.8 L845.5,506.8 L846.6,507.9 L847.6,508.9 L848.7,509.9 L849.8,511.0 L850.9,512.0 L852.0,513.0 L853.1,514.0 L854.1,515.1 L855.2,516.1 L856.3,517.1 L857.5,518.1 L858.6,519.1 L859.7,520.1 L860.8,521.2 L861.9,522.2 L863.0,523.2 L864.2,524.2 L865.3,525.2 L866.4,526.2 L867.6,527.2 L868.7,528.2 L869.8,529.2 L871.0,530.2 L872.1,531.2 L873.3,532.2 L874.5,533.2 L875.6,534.2 L876.8,535.2 L878.0,536.2 L879.1,537.2 L880.3,538.2 L881.5,539.2 L882.7,540.2 L883.9,541.2 L885.1,542.2 L886.3,543.2 L887.5,544.2 L888.7,545.2 L889.9,546.2 L891.1,547.3 L892.3,548.3 L893.5,549.3 L894.7,550.3 L896.0,551.3 L897.2,552.3 L898.4,553.3 L899.6,554.3 L900.8,555.3 L902.0,556.4 L903.2,557.4 L904.4,558.4 L905.5,559.5 L906.7,560.5 L907.8,561.6 L908.9,562.6 L910.0,563.7 L911.1,564.8 L912.2,565.8 L913.2,566.9 L914.2,568.0 L915.2,569.1 L916.2,570.2 L917.1,571.4 L918.0,572.5 L918.9,573.7 L919.7,574.8 L920.5,576.0 L921.3,577.2 L922.0,578.4 L922.7,579.6 L923.4,580.8 L924.0,582.1 L924.6,583.3 L925.1,584.6 L925.6,585.9 L926.0,587.2 L926.4,588.5 L926.7,589.8 L926.9,591.1 L927.1,592.4 L927.2,593.7 L927.1,595.1 L927.0,596.4 L926.8,597.7 L926.5,598.9 L926.0,600.2 L925.5,601.5 L924.8,602.7 L924.0,603.9 L923.2,605.1 L922.2,606.2 L921.1,607.4 L919.9,608.5 L918.6,609.5 L917.3,610.5 L915.9,611.5 L914.5,612.5 L913.0,613.3 L911.5,614.2 L909.9,615.0 L908.4,615.7 L906.8,616.4 L905.2,617.0 L903.7,617.6 L902.2,618.1 L900.7,618.5 L899.3,618.9 L897.9,619.2 L896.6,619.4 L895.4,619.5 L894.3,619.6 L894.0,619.6" stroke="#0000FF" stroke-dasharray="8.3 8.7" stroke-dashoffset="7.4"/>
</g>
<g stroke="#000" stroke-width="2.5" fill="none" stroke-linecap="butt">
<rect x="117.4" y="77.6" width="883.6" height="630.1"/>
<path d="M257.6,707.7 v-12.5 M257.6,77.6 v12.5 M397.8,707.7 v-12.5 M397.8,77.6 v12.5 M538.0,707.7 v-12.5 M538.0,77.6 v12.5 M678.2,707.7 v-12.5 M678.2,77.6 v12.5 M818.4,707.7 v-12.5 M818.4,77.6 v12.5 M958.6,707.7 v-12.5 M958.6,77.6 v12.5 M117.4,674.5 h8.7 M1001.0,674.5 h-8.7 M117.4,641.4 h8.7 M1001.0,641.4 h-8.7 M117.4,608.2 h8.7 M1001.0,608.2 h-8.7 M117.4,575.0 h17.8 M1001.0,575.0 h-17.8 M117.4,541.9 h8.7 M1001.0,541.9 h-8.7 M117.4,508.7 h8.7 M1001.0,508.7 h-8.7 M117.4,475.6 h8.7 M1001.0,475.6 h-8.7 M117.4,442.4 h8.7 M1001.0,442.4 h-8.7 M117.4,409.2 h17.8 M1001.0,409.2 h-17.8 M117.4,376.1 h8.7 M1001.0,376.1 h-8.7 M117.4,342.9 h8.7 M1001.0,342.9 h-8.7 M117.4,309.7 h8.7 M1001.0,309.7 h-8.7 M117.4,276.6 h8.7 M1001.0,276.6 h-8.7 M117.4,243.4 h17.8 M1001.0,243.4 h-17.8 M117.4,210.3 h8.7 M1001.0,210.3 h-8.7 M117.4,177.1 h8.7 M1001.0,177.1 h-8.7 M117.4,143.9 h8.7 M1001.0,143.9 h-8.7 M117.4,110.8 h8.7 M1001.0,110.8 h-8.7"/>
</g>
<g font-family="'DejaVu Sans', 'Liberation Sans', sans-serif" fill="#000">
<text transform="translate(52.30,98.20)" x="-2.17" font-size="28.5" letter-spacing="1.48">300</text>
<text transform="translate(52.30,256.00)" x="-2.09" font-size="28.5" letter-spacing="1.44">250</text>
<text transform="translate(52.30,421.80)" x="-2.09" font-size="28.5" letter-spacing="1.44">200</text>
<text transform="translate(52.30,587.60)" x="-3.13" font-size="28.5" letter-spacing="1.96">150</text>
<text transform="translate(84.60,751.00)" x="-1.88" font-size="28.5" letter-spacing="0.55">0.01</text>
<text transform="translate(234.20,751.00)" x="-1.88" font-size="28.5" letter-spacing="0.39">0.1</text>
<text transform="translate(391.50,751.00)" x="-3.13" font-size="28.5">1</text>
<text transform="translate(523.00,751.00)" x="-3.13" font-size="28.5" letter-spacing="-0.94">10</text>
<text transform="translate(658.00,751.00)" x="-3.13" font-size="28.5" letter-spacing="-2.74">10</text>
<text transform="translate(689.30,736.70) scale(1.4197,1)" x="-1.28" font-size="17.5" stroke="#000" stroke-width="0.7">2</text>
<text transform="translate(798.20,751.00)" x="-3.13" font-size="28.5" letter-spacing="-2.74">10</text>
<text transform="translate(829.50,736.70) scale(1.3691,1)" x="-1.33" font-size="17.5" stroke="#000" stroke-width="0.7">3</text>
<text transform="translate(938.40,751.00)" x="-3.13" font-size="28.5" letter-spacing="-2.74">10</text>
<text transform="translate(969.70,736.70) scale(1.2370,1)" x="-0.85" font-size="17.5" stroke="#000" stroke-width="0.7">4</text>
</g>
<g font-family="'DejaVu Serif', 'Liberation Serif', serif" fill="#000" stroke="#000" stroke-width="0.3">
<text transform="translate(409.80,786.90)" x="-1.54" font-size="28" letter-spacing="0.94">Ion</text>
<text transform="translate(475.00,786.90)" x="-1.39" font-size="28" letter-spacing="1.73">density</text>
<text transform="translate(607.00,789.40) scale(1.2337,1)" x="-2.81" font-size="35.5" stroke-width="0">(</text>
<text transform="translate(620.40,786.90) scale(1.1554,1)" x="-1.39" font-size="28">cm</text>
<text transform="translate(671.50,775.70) scale(0.7303,1)" x="-1.85" font-size="17.5" stroke-width="0.8">−</text>
<text transform="translate(681.20,775.70) scale(1.2703,1)" x="-1.33" font-size="17.5" stroke-width="0.8">3</text>
<text transform="translate(695.60,789.40) scale(1.2312,1)" x="-2.51" font-size="35.5" stroke-width="0">)</text>
<text transform="translate(25.60,501.70) rotate(-90)" x="0.16" font-size="28" letter-spacing="1.67">Altitude</text>
<text transform="translate(26.60,363.90) rotate(-90) scale(1.2337,1)" x="-2.81" font-size="35.5" stroke-width="0">(</text>
<text transform="translate(25.60,351.90) rotate(-90) scale(1.2945,1)" x="-0.81" font-size="28">km</text>
<text transform="translate(26.60,296.10) rotate(-90) scale(1.2312,1)" x="-2.51" font-size="35.5" stroke-width="0">)</text>
</g>
<g transform="translate(186,59.9) rotate(-45)" fill="#FF1493" stroke="#FF1493" stroke-width="1.0" font-family="'DejaVu Serif', 'Liberation Serif', serif"><text transform="translate(0.00,0.00) scale(0.8335,1)" x="-1.49" font-size="27">HCO</text><text x="61.4" y="-12.8" font-size="16.5" text-anchor="middle" stroke-width="1.1">+</text></g>
<g transform="translate(399,60.4) rotate(-45)" fill="#006400" stroke="#006400" stroke-width="1.0" font-family="'DejaVu Serif', 'Liberation Serif', serif"><text transform="translate(0.00,0.00) scale(0.8286,1)" x="-1.32" font-size="27">N</text><text x="24.6" y="-13.3" font-size="16.5" text-anchor="middle" stroke-width="1.1">+</text></g>
<g transform="translate(441.4,60.4) rotate(-45)" fill="#FFA500" stroke="#FFA500" stroke-width="1.0" font-family="'DejaVu Serif', 'Liberation Serif', serif"><text transform="translate(0.00,0.00) scale(0.8286,1)" x="-1.32" font-size="27">N</text><text x="22.6" y="13.2" font-size="15.5" text-anchor="middle" stroke-width="1.2">2</text><text x="34.6" y="-13.3" font-size="16.5" text-anchor="middle" stroke-width="1.1">+</text></g>
<g transform="translate(554.5,61.3) rotate(-45)" fill="#FF0000" stroke="#FF0000" stroke-width="1.0" font-family="'DejaVu Serif', 'Liberation Serif', serif"><text transform="translate(0.00,0.00) scale(0.8370,1)" x="-1.52" font-size="27">O</text><text x="24" y="-12.8" font-size="16.5" text-anchor="middle" stroke-width="1.1">+</text></g>
<g transform="translate(587.4,59.9) rotate(-45)" fill="#FF00FF" stroke="#FF00FF" stroke-width="1.0" font-family="'DejaVu Serif', 'Liberation Serif', serif"><text transform="translate(0.00,0.00) scale(0.8151,1)" x="-1.32" font-size="27">NO</text><text x="42.6" y="-12.8" font-size="16.5" text-anchor="middle" stroke-width="1.1">+</text></g>
<g transform="translate(720.9,61.3) rotate(-45)" fill="#0000FF" stroke="#0000FF" stroke-width="1.0" font-family="'DejaVu Serif', 'Liberation Serif', serif"><text transform="translate(0.00,0.00) scale(0.8370,1)" x="-1.52" font-size="27">O</text><text x="23" y="13.2" font-size="15.5" text-anchor="middle" stroke-width="1.2">2</text><text x="35" y="-12.8" font-size="16.5" text-anchor="middle" stroke-width="1.1">+</text></g>
</svg>
</body></html>
